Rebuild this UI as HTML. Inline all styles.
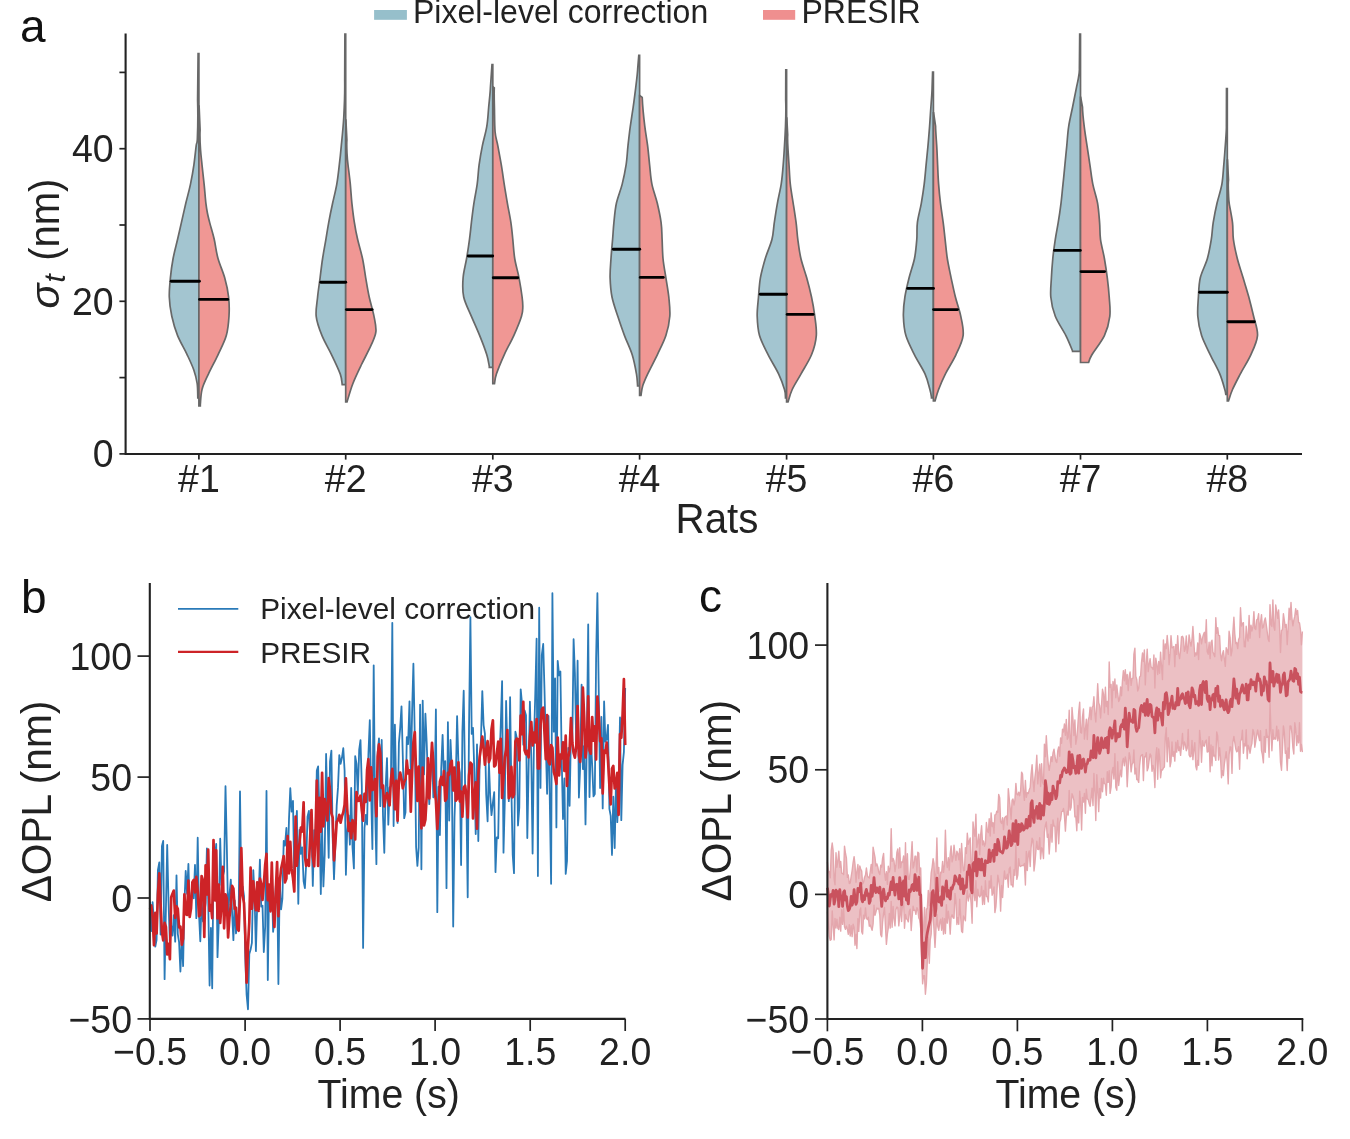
<!DOCTYPE html>
<html><head><meta charset="utf-8"><title>Figure</title><style>
html,body{margin:0;padding:0;background:#fff;}
svg{display:block;will-change:transform;}
text{font-family:"Liberation Sans", sans-serif;fill:#222222;}
.tk{font-size:37.5px;}
.lb{font-size:40.3px;}
.lg{font-size:32px;}
.lg2{font-size:29.8px;}
.pl{font-size:46px;fill:#111;}
</style></head>
<body><svg width="1350" height="1139" viewBox="0 0 1350 1139">
<rect width="1350" height="1139" fill="#fff"/>
<path d="M198.9,53.5 L198.1,53.5 L197.6,100 C197.8,106.3 197.7,130.3 197.4,137.9 C197.1,145.5 196.8,141.1 196.2,145.6 C195.6,150.1 194.8,158.4 193.9,164.8 C193,171.2 191.8,177.7 190.5,184.1 C189.2,190.5 187.3,196.9 185.8,203.3 C184.3,209.7 182.8,216.6 181.4,222.6 C180,228.6 179,233.3 177.6,239.3 C176.2,245.3 174.3,252.1 173.1,258.5 C171.9,264.9 171,271.4 170.4,277.8 C169.8,284.2 169.1,290.6 169.3,297 C169.5,303.4 170.4,309.9 171.8,316.3 C173.2,322.7 175,329.2 177.6,335.6 C180.2,342 184.5,349 187.2,354.8 C189.9,360.6 192.2,365.4 193.9,370.2 C195.6,375 196.5,379.2 197.2,383.7 C197.8,388.2 197.7,394.9 197.8,397.2 L197.8,398 L198.9,398 Z" fill="#a3c5d0" stroke="#686868" stroke-width="1.7" stroke-linejoin="miter" stroke-miterlimit="3"/>
<path d="M198.9,106 L199.1,106 L200.1,130 C199.9,133.2 200.1,143.6 200.5,149.4 C200.9,155.2 201.4,159 202,164.8 C202.6,170.6 203.4,177.7 204.1,184.1 C204.8,190.5 205.3,198.5 205.9,203.3 C206.5,208.1 206.8,209.8 207.4,213 C208,216.2 208.6,218.2 209.7,222.6 C210.8,227 212.8,233.3 214.2,239.3 C215.6,245.3 216.2,252.1 218,258.5 C219.8,264.9 222.9,271.4 224.7,277.8 C226.5,284.2 227.9,290.6 228.6,297 C229.3,303.4 229.4,309.9 229,316.3 C228.6,322.7 228.1,329.2 226.3,335.6 C224.5,342 221,348.4 218,354.8 C215,361.2 211.1,368.3 208.4,374.1 C205.7,379.9 203.3,384.4 202,389.5 C200.7,394.6 200.6,402.3 200.3,404.9 L200.3,405.9 L198.9,405.9 Z" fill="#f09794" stroke="#686868" stroke-width="1.7" stroke-linejoin="miter" stroke-miterlimit="3"/>
<path d="M345.7,34.2 L344.9,34.2 L344.7,80 C344.8,86.1 344.4,105.8 343.8,116.7 C343.2,127.6 342.1,137.6 341.3,145.6 C340.6,153.6 340.1,158.4 339.3,164.8 C338.6,171.2 337.9,177.7 336.8,184.1 C335.7,190.5 334,196.9 332.6,203.3 C331.2,209.7 329.8,216.6 328.7,222.6 C327.6,228.6 326.9,233.3 325.9,239.3 C324.9,245.3 323.6,252.1 322.6,258.5 C321.6,264.9 320.9,271.4 320.1,277.8 C319.3,284.2 318.2,290.6 317.6,297 C317,303.4 315.5,309.9 316.2,316.3 C316.9,322.7 319.4,329.2 322,335.6 C324.6,342 328.6,348.4 331.6,354.8 C334.7,361.2 338.5,369.1 340.3,374.1 C342.1,379.1 341.9,382.9 342.2,384.7 L342.2,384.7 L345.7,384.7 Z" fill="#a3c5d0" stroke="#686868" stroke-width="1.7" stroke-linejoin="miter" stroke-miterlimit="3"/>
<path d="M345.7,120 L345.9,120 L346.9,140 C346.7,142.2 346.8,149.2 347,153.3 C347.2,157.4 347.4,159.7 348,164.8 C348.6,169.9 349.7,177.7 350.3,184.1 C350.9,190.5 351.2,196.9 351.9,203.3 C352.6,209.7 353.4,216.6 354.4,222.6 C355.3,228.6 356.2,233.3 357.6,239.3 C359,245.3 361.1,252.1 362.5,258.5 C363.9,264.9 364.6,271.4 365.7,277.8 C366.8,284.2 367.8,290.6 369.2,297 C370.6,303.4 372.9,310.5 374,316.3 C375.1,322.1 376.4,326.9 375.9,331.7 C375.4,336.5 373.5,339.7 371.1,345.2 C368.7,350.7 364.6,358.1 361.5,364.5 C358.4,370.9 355.2,377.4 352.8,383.7 C350.4,389.9 348,398.9 347,402 L347,402 L345.7,402 Z" fill="#f09794" stroke="#686868" stroke-width="1.7" stroke-linejoin="miter" stroke-miterlimit="3"/>
<path d="M492.8,64.7 L492,64.7 L490.4,87.8 C490.4,91 489.3,100.6 488.7,107 C488.1,113.4 487.9,119.9 486.8,126.3 C485.8,132.7 483.7,139.2 482.4,145.6 C481.1,152 480,158.4 479.1,164.8 C478.2,171.2 478.1,177.7 477.2,184.1 C476.3,190.5 474.9,196.9 473.9,203.3 C472.9,209.7 472.1,216.6 471.4,222.6 C470.7,228.6 470.3,233.3 469.5,239.3 C468.7,245.3 467.7,252.1 466.6,258.5 C465.5,264.9 463.6,271.4 463.1,277.8 C462.6,284.2 462.3,290.6 463.7,297 C465.1,303.4 468.7,309.9 471.4,316.3 C474.1,322.7 477.1,329.2 479.7,335.6 C482.3,342 485.2,349.7 486.8,354.8 C488.4,359.9 488.9,364.5 489.3,366.4 L489.3,367.3 L492.8,367.3 Z" fill="#a3c5d0" stroke="#686868" stroke-width="1.7" stroke-linejoin="miter" stroke-miterlimit="3"/>
<path d="M492.8,86.8 L493,86.8 L494.3,87.8 C494.1,91 494.2,99.6 494.4,107 C494.6,114.4 494.5,125.6 495.1,132 C495.7,138.4 496.8,140.1 497.8,145.6 C498.8,151.1 500.2,158.4 501.3,164.8 C502.4,171.2 503.2,177.7 504.2,184.1 C505.2,190.5 506.3,196.9 507.4,203.3 C508.5,209.7 510,216.6 510.9,222.6 C511.8,228.6 512.2,233.3 512.8,239.3 C513.4,245.3 513.7,252.1 514.7,258.5 C515.7,264.9 517.8,271.4 519,277.8 C520.2,284.2 521.5,292.2 522.1,297 C522.7,301.8 522.9,303.5 522.8,306.7 C522.7,309.9 523,311.5 521.5,316.3 C520,321.1 516.7,329.2 513.8,335.6 C510.9,342 507.1,348.4 504.2,354.8 C501.3,361.2 498,369.3 496.4,374.1 C494.8,378.9 494.8,382.1 494.5,383.7 L494.5,383.7 L492.8,383.7 Z" fill="#f09794" stroke="#686868" stroke-width="1.7" stroke-linejoin="miter" stroke-miterlimit="3"/>
<path d="M639.6,55.4 L638.8,55.4 L637.7,68.5 C637.6,71.7 636.5,81.4 635.7,87.8 C634.9,94.2 634.1,100.6 633.2,107 C632.3,113.4 631.2,119.9 630.3,126.3 C629.4,132.7 628.7,139.2 628,145.6 C627.3,152 627.1,158.4 626.1,164.8 C625.1,171.2 623.8,177.7 622.2,184.1 C620.6,190.5 617.8,196.9 616.4,203.3 C615,209.7 614.5,216.6 613.9,222.6 C613.3,228.6 613.1,233.3 612.6,239.3 C612.1,245.3 611.4,252.1 611,258.5 C610.6,264.9 609.9,271.4 610.1,277.8 C610.3,284.2 610.7,290.6 612,297 C613.3,303.4 615.7,309.9 617.8,316.3 C619.9,322.7 622.1,329.2 624.5,335.6 C626.9,342 630.2,348.4 632.2,354.8 C634.2,361.2 635.6,369 636.5,374.1 C637.4,379.2 637.4,383.7 637.6,385.6 L637.6,386 L639.6,386 Z" fill="#a3c5d0" stroke="#686868" stroke-width="1.7" stroke-linejoin="miter" stroke-miterlimit="3"/>
<path d="M639.6,95.5 L639.8,95.5 L642.2,97.4 C642.4,102.2 643.8,118.3 644.8,126.3 C645.8,134.3 646.8,139.2 647.6,145.6 C648.4,152 648.9,158.4 649.6,164.8 C650.3,171.2 650.6,177.7 651.9,184.1 C653.2,190.5 655.8,196.9 657.3,203.3 C658.8,209.7 660.3,216.6 661.1,222.6 C661.9,228.6 661.8,233.3 662.1,239.3 C662.4,245.3 662.4,252.1 663,258.5 C663.6,264.9 664.9,271.4 665.9,277.8 C666.9,284.2 668.1,290.6 668.8,297 C669.4,303.4 670.3,309.9 669.8,316.3 C669.3,322.7 668,329.2 665.9,335.6 C663.8,342 660.3,348.4 657.3,354.8 C654.2,361.2 650,369 647.6,374.1 C645.2,379.2 643.9,382.1 642.8,385.6 C641.7,389.1 641.3,393.7 641,395.3 L641,395.3 L639.6,395.3 Z" fill="#f09794" stroke="#686868" stroke-width="1.7" stroke-linejoin="miter" stroke-miterlimit="3"/>
<path d="M786.6,69.9 L785.8,69.9 L785.7,100 C785.9,104.4 785.8,118.7 785.5,126.3 C785.2,133.9 784.9,139.2 784.5,145.6 C784.1,152 783.8,158.4 783.2,164.8 C782.7,171.2 782.2,177.7 781.2,184.1 C780.2,190.5 778.5,196.9 777.4,203.3 C776.2,209.7 775.2,216.6 774.3,222.6 C773.4,228.6 773.5,233.3 772,239.3 C770.5,245.3 767.2,252.1 765.3,258.5 C763.4,264.9 761.5,271.4 760.4,277.8 C759.3,284.2 759,290.6 758.5,297 C758,303.4 757,309.9 757.2,316.3 C757.4,322.7 757.7,329.2 759.5,335.6 C761.3,342 765,348.4 768.2,354.8 C771.4,361.2 776,368.3 778.7,374.1 C781.4,379.9 783.4,385.7 784.5,389.5 C785.6,393.3 785.3,395.8 785.5,397 L785.5,398 L786.6,398 Z" fill="#a3c5d0" stroke="#686868" stroke-width="1.7" stroke-linejoin="miter" stroke-miterlimit="3"/>
<path d="M786.6,118 L786.8,118 L787.7,135 C787.5,137.4 787.7,144.4 788,149.4 C788.3,154.4 788.6,159 789,164.8 C789.4,170.6 789.6,177.7 790.3,184.1 C791,190.5 792.2,196.9 793.2,203.3 C794.2,209.7 795.3,216.6 796.1,222.6 C796.9,228.6 797,233.3 797.8,239.3 C798.6,245.3 799.4,252.1 800.9,258.5 C802.4,264.9 804.9,271.4 806.7,277.8 C808.5,284.2 810.1,290.6 811.5,297 C812.9,303.4 814,309.9 814.8,316.3 C815.6,322.7 816.8,329.2 816.3,335.6 C815.8,342 814.1,348.4 811.5,354.8 C808.9,361.2 804.1,368.3 800.9,374.1 C797.7,379.9 794.4,384.9 792.2,389.5 C790.1,394.1 788.7,399.9 788,402 L788,402 L786.6,402 Z" fill="#f09794" stroke="#686868" stroke-width="1.7" stroke-linejoin="miter" stroke-miterlimit="3"/>
<path d="M933.4,72 L932.6,72 L932.1,87.8 C932.1,91 931.4,100.6 930.9,107 C930.4,113.4 930.1,119.9 929.6,126.3 C929.1,132.7 928.6,139.2 928,145.6 C927.4,152 926.7,158.4 926.1,164.8 C925.5,171.2 925,177.7 924.2,184.1 C923.4,190.5 922.4,196.9 921.3,203.3 C920.2,209.7 918.1,216.6 917.4,222.6 C916.6,228.6 917.3,233.3 916.8,239.3 C916.3,245.3 915.8,252.1 914.5,258.5 C913.2,264.9 910.7,271.4 909.1,277.8 C907.5,284.2 905.9,290.6 904.9,297 C903.9,303.4 903.2,309.9 903.4,316.3 C903.6,322.7 904,329.2 905.9,335.6 C907.8,342 911.3,348.4 914.5,354.8 C917.7,361.2 922.5,368.3 925.1,374.1 C927.7,379.9 928.8,385.6 929.9,389.5 C931,393.4 931.2,395.9 931.5,397.2 L931.5,398 L933.4,398 Z" fill="#a3c5d0" stroke="#686868" stroke-width="1.7" stroke-linejoin="miter" stroke-miterlimit="3"/>
<path d="M933.4,112.8 L933.6,112.8 L935.6,126.3 C935.5,129.5 936.3,139.2 936.7,145.6 C937.1,152 937.3,158.4 937.6,164.8 C937.9,171.2 938.1,177.7 938.6,184.1 C939.1,190.5 939.7,196.9 940.5,203.3 C941.3,209.7 942.4,216.6 943.2,222.6 C944,228.6 944.4,233.3 945.1,239.3 C945.8,245.3 946.3,252.1 947.3,258.5 C948.3,264.9 949.8,271.4 951.1,277.8 C952.5,284.2 953.8,290.6 955.4,297 C957,303.4 959.5,309.9 960.8,316.3 C962.1,322.7 963.9,329.2 963.1,335.6 C962.3,342 958.9,348.4 955.9,354.8 C952.9,361.2 948.2,368.3 945.3,374.1 C942.4,379.9 940.3,385 938.6,389.5 C936.9,394 935.6,399.1 935,401 L935,401 L933.4,401 Z" fill="#f09794" stroke="#686868" stroke-width="1.7" stroke-linejoin="miter" stroke-miterlimit="3"/>
<path d="M1080.5,34.2 L1079.7,34.2 L1079.4,68.5 C1079.5,70.1 1079,75 1078.4,78.2 C1077.9,81.4 1077.4,83 1076.4,87.8 C1075.4,92.6 1073.9,100.6 1072.6,107 C1071.3,113.4 1069.7,119.9 1068.7,126.3 C1067.7,132.7 1067.4,139.2 1066.8,145.6 C1066.2,152 1065.5,158.4 1064.9,164.8 C1064.3,171.2 1063.7,177.7 1063,184.1 C1062.3,190.5 1061.8,196.9 1061,203.3 C1060.2,209.7 1059.2,216.6 1058.2,222.6 C1057.2,228.6 1056.2,233.3 1055.3,239.3 C1054.4,245.3 1053.4,252.1 1052.8,258.5 C1052.2,264.9 1051.7,271.4 1051.4,277.8 C1051.1,284.2 1050.2,290.6 1050.8,297 C1051.4,303.4 1052.8,309.9 1055.3,316.3 C1057.8,322.7 1063,329.8 1065.9,335.6 C1068.8,341.4 1071.5,348.4 1072.6,351 L1072.6,351.4 L1080.5,351.4 Z" fill="#a3c5d0" stroke="#686868" stroke-width="1.7" stroke-linejoin="miter" stroke-miterlimit="3"/>
<path d="M1080.5,97.4 L1080.7,97.4 L1082.5,107 C1082.5,110.2 1083.4,119.9 1084.2,126.3 C1085,132.7 1086,139.2 1087,145.6 C1088,152 1088.9,158.4 1089.9,164.8 C1090.9,171.2 1091.5,177.7 1092.8,184.1 C1094.1,190.5 1096.5,196.9 1097.6,203.3 C1098.7,209.7 1099.1,216.6 1099.6,222.6 C1100.1,228.6 1099.7,233.3 1100.5,239.3 C1101.3,245.3 1103.3,252.1 1104.4,258.5 C1105.5,264.9 1106.5,271.4 1107.3,277.8 C1108.1,284.2 1108.8,290.6 1109.2,297 C1109.6,303.4 1110.6,309.9 1109.8,316.3 C1109,322.7 1107.4,329.2 1104.4,335.6 C1101.4,342 1094.5,350.3 1091.9,354.8 C1089.3,359.3 1089.1,361.2 1088.6,362.5 L1088.6,362.5 L1080.5,362.5 Z" fill="#f09794" stroke="#686868" stroke-width="1.7" stroke-linejoin="miter" stroke-miterlimit="3"/>
<path d="M1227.3,88.7 L1226.5,88.7 L1226.4,126.3 C1226.5,129.5 1225.8,139.2 1225.3,145.6 C1224.8,152 1224.4,158.4 1223.8,164.8 C1223.2,171.2 1223,177.7 1221.9,184.1 C1220.8,190.5 1218.5,196.9 1217,203.3 C1215.5,209.7 1214.2,216.6 1213.2,222.6 C1212.2,228.6 1212.3,233.3 1211.3,239.3 C1210.3,245.3 1209.2,252.1 1207.4,258.5 C1205.6,264.9 1201.8,271.4 1200.3,277.8 C1198.8,284.2 1198.8,290.6 1198.4,297 C1198,303.4 1197.3,309.9 1197.8,316.3 C1198.3,322.7 1199.5,329.2 1201.6,335.6 C1203.7,342 1207.2,348.4 1210.3,354.8 C1213.3,361.2 1217.5,368.3 1219.9,374.1 C1222.3,379.9 1223.8,386.1 1224.8,389.5 C1225.8,392.9 1225.6,393.5 1225.8,394.3 L1225.8,394.3 L1227.3,394.3 Z" fill="#a3c5d0" stroke="#686868" stroke-width="1.7" stroke-linejoin="miter" stroke-miterlimit="3"/>
<path d="M1227.3,160 L1227.5,160 L1228.5,180 C1228.2,182.3 1228.3,189.8 1228.5,193.7 C1228.7,197.6 1228.5,198.5 1229.2,203.3 C1229.9,208.1 1231.8,216.6 1232.5,222.6 C1233.2,228.6 1232.6,233.3 1233.4,239.3 C1234.2,245.3 1235.7,252.1 1237.3,258.5 C1238.9,264.9 1241.2,271.4 1243.1,277.8 C1245,284.2 1247,290.6 1248.8,297 C1250.5,303.4 1252.1,309.9 1253.6,316.3 C1255,322.7 1258,329.2 1257.5,335.6 C1257,342 1253.7,348.4 1250.8,354.8 C1247.9,361.2 1243.2,368.3 1240.2,374.1 C1237.2,379.9 1234.5,385 1232.5,389.5 C1230.5,394 1229.2,399.1 1228.5,401 L1228.5,401 L1227.3,401 Z" fill="#f09794" stroke="#686868" stroke-width="1.7" stroke-linejoin="miter" stroke-miterlimit="3"/>
<line x1="171.2" y1="281.2" x2="199.4" y2="281.2" stroke="#000" stroke-width="2.9" stroke-linecap="round"/>
<line x1="199.5" y1="299.4" x2="227.7" y2="299.4" stroke="#000" stroke-width="2.9" stroke-linecap="round"/>
<line x1="320.8" y1="282.2" x2="345.7" y2="282.2" stroke="#000" stroke-width="2.9" stroke-linecap="round"/>
<line x1="346.4" y1="309.6" x2="372.1" y2="309.6" stroke="#000" stroke-width="2.9" stroke-linecap="round"/>
<line x1="468.3" y1="256" x2="492.7" y2="256" stroke="#000" stroke-width="2.9" stroke-linecap="round"/>
<line x1="493.3" y1="277.8" x2="517.7" y2="277.8" stroke="#000" stroke-width="2.9" stroke-linecap="round"/>
<line x1="613.3" y1="249.3" x2="639.7" y2="249.3" stroke="#000" stroke-width="2.9" stroke-linecap="round"/>
<line x1="640.3" y1="277.4" x2="663.3" y2="277.4" stroke="#000" stroke-width="2.9" stroke-linecap="round"/>
<line x1="760.3" y1="294.2" x2="786.5" y2="294.2" stroke="#000" stroke-width="2.9" stroke-linecap="round"/>
<line x1="787.2" y1="314.4" x2="813.1" y2="314.4" stroke="#000" stroke-width="2.9" stroke-linecap="round"/>
<line x1="907.7" y1="288.4" x2="933.5" y2="288.4" stroke="#000" stroke-width="2.9" stroke-linecap="round"/>
<line x1="933.6" y1="309.6" x2="957.5" y2="309.6" stroke="#000" stroke-width="2.9" stroke-linecap="round"/>
<line x1="1054.6" y1="250.4" x2="1080.3" y2="250.4" stroke="#000" stroke-width="2.9" stroke-linecap="round"/>
<line x1="1081" y1="271.6" x2="1104.6" y2="271.6" stroke="#000" stroke-width="2.9" stroke-linecap="round"/>
<line x1="1199.7" y1="292.2" x2="1227.3" y2="292.2" stroke="#000" stroke-width="2.9" stroke-linecap="round"/>
<line x1="1228" y1="321.7" x2="1254.3" y2="321.7" stroke="#000" stroke-width="2.9" stroke-linecap="round"/>
<path d="M125.6,33.5 V454.0 H1302" fill="none" stroke="#222222" stroke-width="2.1"/>
<line x1="119.4" y1="453.9" x2="125.6" y2="453.9" stroke="#222222" stroke-width="1.7"/>
<text x="113.7" y="467.2" text-anchor="end" class="tk" transform="matrix(1 0 0 1.04 0 -18.69)">0</text>
<line x1="119.4" y1="377.6" x2="125.6" y2="377.6" stroke="#222222" stroke-width="1.7"/>
<line x1="119.4" y1="301.3" x2="125.6" y2="301.3" stroke="#222222" stroke-width="1.7"/>
<text x="113.7" y="314.6" text-anchor="end" class="tk" transform="matrix(1 0 0 1.04 0 -12.58)">20</text>
<line x1="119.4" y1="225.0" x2="125.6" y2="225.0" stroke="#222222" stroke-width="1.7"/>
<line x1="119.4" y1="148.7" x2="125.6" y2="148.7" stroke="#222222" stroke-width="1.7"/>
<text x="113.7" y="162" text-anchor="end" class="tk" transform="matrix(1 0 0 1.04 0 -6.48)">40</text>
<line x1="119.4" y1="72.4" x2="125.6" y2="72.4" stroke="#222222" stroke-width="1.7"/>
<line x1="198.9" y1="454.0" x2="198.9" y2="459.6" stroke="#222222" stroke-width="1.7"/>
<text x="198.9" y="491.8" text-anchor="middle" class="tk" transform="matrix(1 0 0 1.04 0 -19.67)">#1</text>
<line x1="345.7" y1="454.0" x2="345.7" y2="459.6" stroke="#222222" stroke-width="1.7"/>
<text x="345.7" y="491.8" text-anchor="middle" class="tk" transform="matrix(1 0 0 1.04 0 -19.67)">#2</text>
<line x1="492.8" y1="454.0" x2="492.8" y2="459.6" stroke="#222222" stroke-width="1.7"/>
<text x="492.8" y="491.8" text-anchor="middle" class="tk" transform="matrix(1 0 0 1.04 0 -19.67)">#3</text>
<line x1="639.6" y1="454.0" x2="639.6" y2="459.6" stroke="#222222" stroke-width="1.7"/>
<text x="639.6" y="491.8" text-anchor="middle" class="tk" transform="matrix(1 0 0 1.04 0 -19.67)">#4</text>
<line x1="786.6" y1="454.0" x2="786.6" y2="459.6" stroke="#222222" stroke-width="1.7"/>
<text x="786.6" y="491.8" text-anchor="middle" class="tk" transform="matrix(1 0 0 1.04 0 -19.67)">#5</text>
<line x1="933.4" y1="454.0" x2="933.4" y2="459.6" stroke="#222222" stroke-width="1.7"/>
<text x="933.4" y="491.8" text-anchor="middle" class="tk" transform="matrix(1 0 0 1.04 0 -19.67)">#6</text>
<line x1="1080.5" y1="454.0" x2="1080.5" y2="459.6" stroke="#222222" stroke-width="1.7"/>
<text x="1080.5" y="491.8" text-anchor="middle" class="tk" transform="matrix(1 0 0 1.04 0 -19.67)">#7</text>
<line x1="1227.3" y1="454.0" x2="1227.3" y2="459.6" stroke="#222222" stroke-width="1.7"/>
<text x="1227.3" y="491.8" text-anchor="middle" class="tk" transform="matrix(1 0 0 1.04 0 -19.67)">#8</text>
<text x="717" y="533.4" text-anchor="middle" class="lb" transform="matrix(1 0 0 1.04 0 -21.34)">Rats</text>
<g transform="translate(48,294.6) rotate(-90)"><text x="-13.9" y="10.8" style="font-size:41.5px;font-style:italic">σ</text></g>
<g transform="translate(55.5,277.2) rotate(-90)"><text x="-5.4" y="9.6" style="font-size:30px;font-style:italic">t</text></g>
<g transform="translate(58.5,219.7) rotate(-90)"><text x="0" y="0" text-anchor="middle" class="lb" style="font-size:40px" transform="matrix(1 0 0 1.04 0 -0.00)">(nm)</text></g>
<rect x="374.1" y="10" width="32.8" height="9.8" fill="#96bfcb"/>
<text x="413" y="23.3" class="lg" transform="matrix(1 0 0 1.01 0 -0.23)">Pixel-level correction</text>
<rect x="763" y="10" width="32.2" height="9.8" fill="#ef8f8f"/>
<text x="801.5" y="23.3" class="lg" transform="matrix(1 0 0 1.01 0 -0.23)">PRESIR</text>
<text x="20" y="41.6" class="pl">a</text>
<path d="M150,901.5 L151.3,931 L152.6,902.2 L154,922.6 L155.3,946.6 L156.6,939.8 L157.9,870.2 L159.3,862.4 L160.6,934.5 L161.9,846.2 L163.2,840.9 L164.6,979.2 L165.9,910.1 L167.2,844.9 L168.5,901.6 L169.9,943.2 L171.2,925.5 L172.5,935.7 L173.8,915.1 L175.2,941.7 L176.5,875.3 L177.8,934.2 L179.1,942.2 L180.4,971.5 L181.8,936.7 L183.1,966.1 L184.4,903.2 L185.7,871 L187.1,893.8 L188.4,864 L189.7,909 L191,901 L192.4,886.5 L193.7,898.4 L195,864.9 L196.3,918.2 L197.7,837.7 L199,914 L200.3,941.3 L201.6,901.3 L203,921.4 L204.3,914.2 L205.6,903 L206.9,848.5 L208.2,900 L209.6,985.5 L210.9,927.8 L212.2,988.3 L213.5,861.9 L214.9,860.9 L216.2,844 L217.5,957.2 L218.8,921.8 L220.2,838.7 L221.5,884.9 L222.8,876.6 L224.1,871.2 L225.5,786.2 L226.8,845.3 L228.1,914.5 L229.4,895.5 L230.8,879.7 L232.1,912.9 L233.4,940.1 L234.7,900.3 L236,933.4 L237.4,919.8 L238.7,912.3 L240,791.3 L241.3,891.5 L242.7,886.5 L244,895.8 L245.3,958.5 L246.6,994.7 L248,1009.3 L249.3,954 L250.6,949.6 L251.9,942.8 L253.3,870.2 L254.6,897 L255.9,951.1 L257.2,904.6 L258.6,898.1 L259.9,859.7 L261.2,906.6 L262.5,905.6 L263.8,952 L265.2,926.2 L266.5,791 L267.8,980 L269.1,886.6 L270.5,889.3 L271.8,882 L273.1,931.8 L274.4,919.4 L275.8,886 L277.1,876.3 L278.4,984.1 L279.7,882.2 L281.1,909.3 L282.4,898.7 L283.7,840.9 L285,845.6 L286.4,828 L287.7,867.4 L289,819 L290.3,788.2 L291.6,811.6 L293,800.9 L294.3,880.1 L295.6,832.3 L296.9,810.9 L298.3,903.8 L299.6,829.8 L300.9,853.9 L302.2,847.4 L303.6,881.3 L304.9,888.1 L306.2,863.2 L307.5,816.6 L308.9,810.9 L310.2,837.9 L311.5,828.5 L312.8,885.9 L314.2,830.2 L315.5,838.5 L316.8,770.5 L318.1,766.4 L319.4,811 L320.8,894 L322.1,827.7 L323.4,886.4 L324.7,854.8 L326.1,753.9 L327.4,809 L328.7,857.8 L330,761.7 L331.4,750.7 L332.7,839.2 L334,879.1 L335.3,845.5 L336.7,805.4 L338,787.4 L339.3,755.1 L340.6,763.8 L342,757.5 L343.3,748.2 L344.6,770.7 L345.9,874.8 L347.2,830 L348.6,815.5 L349.9,844.6 L351.2,788 L352.5,847.4 L353.9,868.4 L355.2,756.1 L356.5,763.8 L357.8,793.9 L359.2,749.6 L360.5,740.1 L361.8,785.8 L363.1,947.9 L364.5,827.8 L365.8,815 L367.1,824.6 L368.4,754.8 L369.8,720.2 L371.1,792.5 L372.4,849 L373.7,665.3 L375,803.6 L376.4,864.2 L377.7,752.1 L379,738.4 L380.3,806.2 L381.7,739.9 L383,815.7 L384.3,852.8 L385.6,787.8 L387,758.1 L388.3,824.7 L389.6,787.5 L390.9,786 L392.3,622.8 L393.6,826 L394.9,724.7 L396.2,789.1 L397.6,822.9 L398.9,743.1 L400.2,727.8 L401.5,706.3 L402.8,756.8 L404.2,818.2 L405.5,812.3 L406.8,737.1 L408.1,744.1 L409.5,701.3 L410.8,775.9 L412.1,712.3 L413.4,663.7 L414.8,737.7 L416.1,846.9 L417.4,865.9 L418.7,847.6 L420.1,704.6 L421.4,869.3 L422.7,700.6 L424,774.4 L425.4,713.7 L426.7,742.9 L428,780.5 L429.3,804.2 L430.6,770.2 L432,748.9 L433.3,797.3 L434.6,794.2 L435.9,709.5 L437.3,912.2 L438.6,786.7 L439.9,835.1 L441.2,769.3 L442.6,734.8 L443.9,777.3 L445.2,761.2 L446.5,888.2 L447.9,722.2 L449.2,820.5 L450.5,740 L451.8,769.5 L453.2,926.5 L454.5,817.7 L455.8,780.1 L457.1,716.1 L458.4,762.2 L459.8,772.5 L461.1,865 L462.4,731.5 L463.7,690.7 L465.1,785.7 L466.4,801.8 L467.7,897.3 L469,729.1 L470.4,617.2 L471.7,733.9 L473,728 L474.3,770.4 L475.7,834.1 L477,744.5 L478.3,841 L479.6,765.8 L481,738.5 L482.3,691.1 L483.6,725.1 L484.9,733.7 L486.2,794.2 L487.6,821.3 L488.9,762.9 L490.2,796.6 L491.5,815.2 L492.9,802.6 L494.2,792.1 L495.5,872.1 L496.8,837.3 L498.2,838.3 L499.5,760.5 L500.8,723.9 L502.1,681.1 L503.5,852.7 L504.8,801.2 L506.1,700.9 L507.4,751.7 L508.8,801.2 L510.1,697.2 L511.4,790.5 L512.7,854.6 L514,873.2 L515.4,731.7 L516.7,737.6 L518,825.5 L519.3,807.5 L520.7,689.3 L522,703.7 L523.3,744.7 L524.6,710.5 L526,715.2 L527.3,838.1 L528.6,769 L529.9,701.7 L531.3,758.3 L532.6,853.5 L533.9,743.5 L535.2,696.7 L536.6,638.7 L537.9,876.1 L539.2,607.7 L540.5,787.9 L541.8,655.1 L543.2,644 L544.5,690.2 L545.8,744.4 L547.1,793.8 L548.5,716 L549.8,800.3 L551.1,883.8 L552.4,593.2 L553.8,731.7 L555.1,678.4 L556.4,827.4 L557.7,660.8 L559.1,675.3 L560.4,671.5 L561.7,759.1 L563,819 L564.4,778.5 L565.7,873.9 L567,860.8 L568.3,747.9 L569.6,805.8 L571,731.6 L572.3,742.6 L573.6,639.2 L574.9,673.3 L576.3,747.8 L577.6,660.7 L578.9,797.5 L580.2,766.4 L581.6,684.7 L582.9,769.1 L584.2,746.2 L585.5,824.4 L586.9,736.8 L588.2,624.4 L589.5,797 L590.8,736.2 L592.2,766.1 L593.5,796.4 L594.8,794 L596.1,659.3 L597.4,593.2 L598.8,695.1 L600.1,788 L601.4,716.8 L602.7,808.4 L604.1,701.5 L605.4,741.7 L606.7,738.1 L608,724.9 L609.4,808.8 L610.7,815.8 L612,854.9 L613.3,796.7 L614.7,848 L616,780.4 L617.3,822.1 L618.6,793.6 L620,717.4 L621.3,820.2 L622.6,765 L623.9,751.8 L625.2,688.1" fill="none" stroke="#2a7ab8" stroke-width="1.8" stroke-linejoin="round"/>
<path d="M150,909.4 L151.3,905.5 L152.6,917 L154,945.1 L155.3,912.9 L156.6,933.5 L157.9,894.7 L159.3,873.3 L160.6,904.5 L161.9,931.2 L163.2,940.4 L164.6,922.9 L165.9,926.9 L167.2,954.5 L168.5,943.8 L169.9,959.1 L171.2,897.2 L172.5,893.7 L173.8,890.6 L175.2,917.8 L176.5,906.4 L177.8,908.8 L179.1,927.5 L180.4,926.6 L181.8,944.7 L183.1,938.8 L184.4,894.4 L185.7,914 L187.1,914.9 L188.4,880.6 L189.7,917 L191,908.6 L192.4,882.1 L193.7,879.9 L195,892.3 L196.3,876.9 L197.7,891.4 L199,916.1 L200.3,915 L201.6,876 L203,880.3 L204.3,937 L205.6,865.4 L206.9,894.5 L208.2,849.7 L209.6,910.6 L210.9,905 L212.2,918.1 L213.5,840.1 L214.9,900.3 L216.2,850.4 L217.5,918.5 L218.8,884.6 L220.2,923 L221.5,904.9 L222.8,866.9 L224.1,928.3 L225.5,894.4 L226.8,898.7 L228.1,937.4 L229.4,917.7 L230.8,905 L232.1,885.9 L233.4,888.6 L234.7,908.9 L236,907.7 L237.4,929 L238.7,930.7 L240,896.4 L241.3,848.1 L242.7,895.5 L244,903.3 L245.3,934.3 L246.6,982.7 L248,946.4 L249.3,922.3 L250.6,867.7 L251.9,908.6 L253.3,881.3 L254.6,897.2 L255.9,910.1 L257.2,882.4 L258.6,910.9 L259.9,878.6 L261.2,883.6 L262.5,900 L263.8,884.8 L265.2,864.7 L266.5,853.9 L267.8,900.1 L269.1,884.6 L270.5,911.3 L271.8,862.5 L273.1,908.3 L274.4,927 L275.8,890.8 L277.1,862 L278.4,916.1 L279.7,882.6 L281.1,868.9 L282.4,862.7 L283.7,856 L285,882.4 L286.4,878.5 L287.7,836 L289,873.3 L290.3,841.8 L291.6,868.9 L293,878.1 L294.3,891.5 L295.6,816.6 L296.9,865.6 L298.3,850.5 L299.6,842.6 L300.9,827.5 L302.2,831.5 L303.6,802.3 L304.9,856.5 L306.2,865.8 L307.5,860.1 L308.9,865.9 L310.2,836 L311.5,810 L312.8,856.6 L314.2,866.2 L315.5,834.6 L316.8,780.5 L318.1,865.9 L319.4,797.8 L320.8,831.6 L322.1,772.9 L323.4,826.3 L324.7,799.2 L326.1,809 L327.4,820.5 L328.7,778.1 L330,789.8 L331.4,813.4 L332.7,817.7 L334,860.3 L335.3,843.6 L336.7,821.9 L338,820.1 L339.3,814.8 L340.6,822.7 L342,816.1 L343.3,812.2 L344.6,804.8 L345.9,778.3 L347.2,808.8 L348.6,830.8 L349.9,823.2 L351.2,838.1 L352.5,820 L353.9,826.8 L355.2,839.4 L356.5,792 L357.8,800.8 L359.2,800.6 L360.5,795.7 L361.8,810.4 L363.1,820.7 L364.5,793.8 L365.8,802 L367.1,769.9 L368.4,759.2 L369.8,800.5 L371.1,767.3 L372.4,790 L373.7,788.5 L375,779.1 L376.4,816.2 L377.7,756.6 L379,744.4 L380.3,753.3 L381.7,788 L383,785.5 L384.3,806.4 L385.6,798.7 L387,793.1 L388.3,798.4 L389.6,805.5 L390.9,779.8 L392.3,768.8 L393.6,786 L394.9,809.2 L396.2,780.8 L397.6,820.6 L398.9,780.2 L400.2,772.5 L401.5,778.9 L402.8,788.2 L404.2,782.2 L405.5,778.9 L406.8,760.5 L408.1,773.3 L409.5,770.3 L410.8,811.7 L412.1,773.2 L413.4,742.3 L414.8,732.2 L416.1,772.9 L417.4,801 L418.7,766.6 L420.1,802 L421.4,828.3 L422.7,767.6 L424,825.5 L425.4,819.6 L426.7,795.8 L428,758.4 L429.3,798.4 L430.6,770.4 L432,742.9 L433.3,762.8 L434.6,790.5 L435.9,800.7 L437.3,829 L438.6,808.8 L439.9,781.6 L441.2,777 L442.6,784.9 L443.9,771.2 L445.2,800.8 L446.5,798.5 L447.9,772.9 L449.2,774.7 L450.5,763.9 L451.8,760.8 L453.2,790.5 L454.5,767.6 L455.8,800.7 L457.1,799 L458.4,762.3 L459.8,801.3 L461.1,791.5 L462.4,816.6 L463.7,787.7 L465.1,785.6 L466.4,795.3 L467.7,817.5 L469,775.5 L470.4,762.7 L471.7,764.1 L473,818.4 L474.3,796.1 L475.7,782.3 L477,828.6 L478.3,774.7 L479.6,757.2 L481,747.1 L482.3,736.6 L483.6,748 L484.9,764.7 L486.2,750.2 L487.6,741.2 L488.9,762.1 L490.2,758.4 L491.5,729.4 L492.9,720.3 L494.2,766.4 L495.5,765.2 L496.8,753.5 L498.2,741.7 L499.5,772.6 L500.8,738.9 L502.1,798 L503.5,777.1 L504.8,757.2 L506.1,749.8 L507.4,730 L508.8,798.2 L510.1,795.2 L511.4,766.8 L512.7,797.3 L514,794.5 L515.4,741.4 L516.7,738.7 L518,739.3 L519.3,760.4 L520.7,715.6 L522,734.1 L523.3,701.8 L524.6,750.2 L526,754.2 L527.3,750.8 L528.6,757.5 L529.9,736.8 L531.3,722.2 L532.6,745.4 L533.9,732.5 L535.2,742.3 L536.6,719.1 L537.9,768.4 L539.2,768.5 L540.5,725.6 L541.8,709.6 L543.2,707.6 L544.5,733 L545.8,759.1 L547.1,715.2 L548.5,761.6 L549.8,764.3 L551.1,745 L552.4,747.8 L553.8,772 L555.1,776.7 L556.4,783.9 L557.7,737.5 L559.1,775.4 L560.4,754.6 L561.7,758.5 L563,742.3 L564.4,771 L565.7,735.7 L567,785.9 L568.3,757.4 L569.6,750.4 L571,718.1 L572.3,742.5 L573.6,753 L574.9,757.6 L576.3,745.8 L577.6,706 L578.9,755.5 L580.2,762 L581.6,744 L582.9,687.7 L584.2,717.6 L585.5,757.5 L586.9,744 L588.2,696.4 L589.5,750.3 L590.8,753.7 L592.2,717 L593.5,740.7 L594.8,726.3 L596.1,759.4 L597.4,696.6 L598.8,716.2 L600.1,741.2 L601.4,738.3 L602.7,793.5 L604.1,750.5 L605.4,752.8 L606.7,742.6 L608,759.9 L609.4,785.6 L610.7,804.3 L612,768.5 L613.3,765.9 L614.7,788.3 L616,784.1 L617.3,772.8 L618.6,814.8 L620,734 L621.3,737.7 L622.6,714.6 L623.9,679.1 L625.2,745.1" fill="none" stroke="#cd2327" stroke-width="2.7" stroke-linejoin="round"/>
<path d="M149.8,582.9 V1018.9 H625.5" fill="none" stroke="#222222" stroke-width="2.1"/>
<line x1="137.5" y1="1018.9" x2="149.8" y2="1018.9" stroke="#222222" stroke-width="1.7"/>
<text x="132" y="1032.8" text-anchor="end" class="tk" transform="matrix(1 0 0 1.04 0 -41.31)">−50</text>
<line x1="137.5" y1="898" x2="149.8" y2="898" stroke="#222222" stroke-width="1.7"/>
<text x="132" y="911.9" text-anchor="end" class="tk" transform="matrix(1 0 0 1.04 0 -36.48)">0</text>
<line x1="137.5" y1="777.1" x2="149.8" y2="777.1" stroke="#222222" stroke-width="1.7"/>
<text x="132" y="791" text-anchor="end" class="tk" transform="matrix(1 0 0 1.04 0 -31.64)">50</text>
<line x1="137.5" y1="656.1" x2="149.8" y2="656.1" stroke="#222222" stroke-width="1.7"/>
<text x="132" y="670" text-anchor="end" class="tk" transform="matrix(1 0 0 1.04 0 -26.80)">100</text>
<line x1="150" y1="1018.9" x2="150" y2="1031" stroke="#222222" stroke-width="1.7"/>
<text x="150" y="1065" text-anchor="middle" class="tk" transform="matrix(1 0 0 1.04 0 -42.60)">−0.5</text>
<line x1="245.1" y1="1018.9" x2="245.1" y2="1031" stroke="#222222" stroke-width="1.7"/>
<text x="245.1" y="1065" text-anchor="middle" class="tk" transform="matrix(1 0 0 1.04 0 -42.60)">0.0</text>
<line x1="340.1" y1="1018.9" x2="340.1" y2="1031" stroke="#222222" stroke-width="1.7"/>
<text x="340.1" y="1065" text-anchor="middle" class="tk" transform="matrix(1 0 0 1.04 0 -42.60)">0.5</text>
<line x1="435.1" y1="1018.9" x2="435.1" y2="1031" stroke="#222222" stroke-width="1.7"/>
<text x="435.1" y="1065" text-anchor="middle" class="tk" transform="matrix(1 0 0 1.04 0 -42.60)">1.0</text>
<line x1="530.2" y1="1018.9" x2="530.2" y2="1031" stroke="#222222" stroke-width="1.7"/>
<text x="530.2" y="1065" text-anchor="middle" class="tk" transform="matrix(1 0 0 1.04 0 -42.60)">1.5</text>
<line x1="625.2" y1="1018.9" x2="625.2" y2="1031" stroke="#222222" stroke-width="1.7"/>
<text x="625.2" y="1065" text-anchor="middle" class="tk" transform="matrix(1 0 0 1.04 0 -42.60)">2.0</text>
<text x="388.7" y="1108" text-anchor="middle" class="lb" style="font-size:39.2px" transform="matrix(1 0 0 1.04 0 -44.32)">Time (s)</text>
<g transform="translate(51.3,801.5) rotate(-90)"><text x="0" y="0" text-anchor="middle" class="lb" style="font-size:40.6px" transform="matrix(1 0 0 1.04 0 -0.00)">ΔOPL (nm)</text></g>
<line x1="178" y1="608.8" x2="238.3" y2="608.8" stroke="#2a7ab8" stroke-width="1.7"/>
<line x1="178" y1="651.9" x2="238.3" y2="651.9" stroke="#cd2327" stroke-width="2.2"/>
<text x="260.2" y="619.4" class="lg2" transform="matrix(1 0 0 1.01 0 -6.19)">Pixel-level correction</text>
<text x="260.2" y="662.8" class="lg2" transform="matrix(1 0 0 1.01 0 -6.63)">PRESIR</text>
<text x="21" y="613.2" class="pl">b</text>
<path d="M827.4,861.9 L828.4,872.6 L829.3,871.4 L830.3,877.8 L831.2,850.7 L832.2,843 L833.1,850.2 L834.1,878.8 L835,884.7 L836,852.8 L836.9,867.2 L837.9,860.8 L838.8,851.3 L839.8,867.3 L840.7,861.4 L841.7,873.1 L842.6,873.4 L843.6,874.5 L844.5,846.1 L845.5,853.5 L846.4,857.8 L847.4,877.4 L848.3,875 L849.3,883.5 L850.2,883.2 L851.2,876.4 L852.1,870.8 L853.1,862.6 L854.1,856.7 L855,864.5 L856,882.3 L856.9,871.4 L857.9,864.5 L858.8,878.6 L859.8,865.9 L860.7,869 L861.7,871.1 L862.6,884 L863.6,882.1 L864.5,877.4 L865.5,875 L866.4,868 L867.4,875.9 L868.3,877.3 L869.3,878 L870.2,872 L871.2,864.4 L872.1,873.1 L873.1,847.1 L874,852.1 L875,857.4 L875.9,866 L876.9,863.9 L877.9,867.5 L878.8,872.3 L879.8,874.5 L880.7,865.2 L881.7,867.1 L882.6,858.1 L883.6,853.5 L884.5,872.4 L885.5,880.2 L886.4,871.7 L887.4,884.4 L888.3,866.2 L889.3,872.1 L890.2,868 L891.2,828.7 L892.1,861.4 L893.1,858.5 L894,861 L895,871.6 L895.9,864.8 L896.9,852.5 L897.8,849 L898.8,868.1 L899.7,847.8 L900.7,867.6 L901.6,861.9 L902.6,862.5 L903.6,856 L904.5,880.3 L905.5,842.8 L906.4,889.1 L907.4,853.8 L908.3,879.2 L909.3,879.6 L910.2,871.3 L911.2,856.6 L912.1,841.6 L913.1,868.1 L914,865 L915,856.3 L915.9,856.1 L916.9,872.1 L917.8,852.2 L918.8,853.3 L919.7,874.6 L920.7,867.9 L921.6,905.9 L922.6,934.7 L923.5,929.9 L924.5,907.4 L925.4,943 L926.4,908.9 L927.3,908.7 L928.3,890.5 L929.3,905.6 L930.2,889.1 L931.2,872.8 L932.1,867.5 L933.1,858.7 L934,863.4 L935,892.4 L935.9,871.7 L936.9,838 L937.8,873.5 L938.8,867.4 L939.7,891.2 L940.7,872.1 L941.6,872.8 L942.6,861.4 L943.5,872.4 L944.5,864.8 L945.4,830.2 L946.4,861.5 L947.3,867.5 L948.3,857.6 L949.2,870.1 L950.2,854 L951.1,845.9 L952.1,861.9 L953.1,857.5 L954,845.2 L955,854.2 L955.9,860.3 L956.9,851.2 L957.8,853.4 L958.8,859.7 L959.7,848.6 L960.7,872.6 L961.6,843.5 L962.6,861.3 L963.5,870.8 L964.5,870.3 L965.4,847.6 L966.4,853.5 L967.3,833.3 L968.3,844.4 L969.2,841.4 L970.2,837.9 L971.1,865.5 L972.1,878.2 L973,821.9 L974,832 L974.9,836.4 L975.9,814.1 L976.8,847.6 L977.8,842.5 L978.8,834.3 L979.7,854.7 L980.7,834.2 L981.6,825.8 L982.6,844.9 L983.5,840.9 L984.5,846.2 L985.4,843.8 L986.4,822.5 L987.3,831.2 L988.3,832.6 L989.2,818.8 L990.2,836 L991.1,812.9 L992.1,826.5 L993,822.6 L994,833.3 L994.9,815 L995.9,814.7 L996.8,811.1 L997.8,812.4 L998.7,794.4 L999.7,797.9 L1000.6,821.9 L1001.6,823.5 L1002.6,817.8 L1003.5,829.6 L1004.5,818.1 L1005.4,816.8 L1006.4,816 L1007.3,825 L1008.3,788.6 L1009.2,798 L1010.2,808.2 L1011.1,819.3 L1012.1,800.1 L1013,799 L1014,805 L1014.9,800 L1015.9,783.4 L1016.8,794.3 L1017.8,795 L1018.7,792.1 L1019.7,795.7 L1020.6,790.8 L1021.6,772.1 L1022.5,774 L1023.5,791.8 L1024.4,800.4 L1025.4,780.5 L1026.3,797.3 L1027.3,792.7 L1028.3,793.5 L1029.2,790.1 L1030.2,787.5 L1031.1,774.2 L1032.1,764.8 L1033,779.2 L1034,791.5 L1034.9,777.9 L1035.9,769 L1036.8,755.2 L1037.8,783.9 L1038.7,773.6 L1039.7,764.2 L1040.6,786.5 L1041.6,763.6 L1042.5,782.2 L1043.5,784.6 L1044.4,744.1 L1045.4,756.6 L1046.3,735.8 L1047.3,753.3 L1048.2,763.5 L1049.2,770.4 L1050.1,764.5 L1051.1,756.7 L1052,761.6 L1053,753 L1054,749.2 L1054.9,756 L1055.9,761.4 L1056.8,762.5 L1057.8,750.6 L1058.7,746.9 L1059.7,756.3 L1060.6,737.9 L1061.6,743.3 L1062.5,729.3 L1063.5,732 L1064.4,724 L1065.4,735.3 L1066.3,719.4 L1067.3,739.2 L1068.2,737.4 L1069.2,710.3 L1070.1,740.3 L1071.1,747.4 L1072,707.5 L1073,719.8 L1073.9,735.5 L1074.9,720 L1075.8,744.2 L1076.8,737.8 L1077.8,726.3 L1078.7,712 L1079.7,702.1 L1080.6,732.5 L1081.6,733.1 L1082.5,716.9 L1083.5,708.9 L1084.4,739.1 L1085.4,729.7 L1086.3,719.3 L1087.3,739.5 L1088.2,720.1 L1089.2,716.7 L1090.1,707.1 L1091.1,719.6 L1092,707.4 L1093,706.3 L1093.9,696.7 L1094.9,714 L1095.8,722 L1096.8,704 L1097.7,683.7 L1098.7,702.7 L1099.6,705.6 L1100.6,718 L1101.5,705 L1102.5,689.3 L1103.5,694.1 L1104.4,712.7 L1105.4,687.2 L1106.3,706.6 L1107.3,701.5 L1108.2,714.5 L1109.2,662 L1110.1,687.6 L1111.1,684.5 L1112,707.7 L1113,681.5 L1113.9,690.3 L1114.9,679 L1115.8,697.7 L1116.8,685 L1117.7,693.7 L1118.7,701.5 L1119.6,699.4 L1120.6,686.9 L1121.5,695.8 L1122.5,680.3 L1123.4,670.6 L1124.4,680.8 L1125.3,669.8 L1126.3,684.2 L1127.2,674.4 L1128.2,690.6 L1129.2,676.2 L1130.1,672 L1131.1,685.4 L1132,678.7 L1133,678.1 L1133.9,654.1 L1134.9,648.2 L1135.8,676.3 L1136.8,679.7 L1137.7,691 L1138.7,688.2 L1139.6,677.1 L1140.6,676.1 L1141.5,662.6 L1142.5,653 L1143.4,661.5 L1144.4,649.9 L1145.3,684.9 L1146.3,663.3 L1147.2,649.1 L1148.2,671.6 L1149.1,664.8 L1150.1,658.7 L1151,666.9 L1152,667.7 L1153,669.4 L1153.9,655 L1154.9,688.1 L1155.8,658.1 L1156.8,664.5 L1157.7,674.5 L1158.7,661.5 L1159.6,673.2 L1160.6,652.1 L1161.5,666.9 L1162.5,679.6 L1163.4,639.9 L1164.4,659.3 L1165.3,643.9 L1166.3,648.5 L1167.2,635.5 L1168.2,646.5 L1169.1,664.7 L1170.1,653.4 L1171,635.6 L1172,647.9 L1172.9,647.2 L1173.9,646.5 L1174.8,666.6 L1175.8,644.4 L1176.7,654.4 L1177.7,635.8 L1178.7,653.8 L1179.6,658.5 L1180.6,650.5 L1181.5,636.9 L1182.5,636.3 L1183.4,638.6 L1184.4,651.4 L1185.3,649 L1186.3,635.9 L1187.2,653.2 L1188.2,647.3 L1189.1,634.9 L1190.1,641.9 L1191,646.1 L1192,639.7 L1192.9,626.5 L1193.9,642.9 L1194.8,656.4 L1195.8,652.9 L1196.7,655.1 L1197.7,642.9 L1198.6,659.5 L1199.6,633.4 L1200.5,636.3 L1201.5,643.9 L1202.5,638.2 L1203.4,634.7 L1204.4,632.3 L1205.3,642.8 L1206.3,619.8 L1207.2,651.5 L1208.2,654.3 L1209.1,642.2 L1210.1,658.6 L1211,642.6 L1212,640.2 L1212.9,652.1 L1213.9,654.6 L1214.8,656.7 L1215.8,617.7 L1216.7,633.4 L1217.7,627.6 L1218.6,635.4 L1219.6,635.6 L1220.5,654.3 L1221.5,660.7 L1222.4,654.3 L1223.4,650.7 L1224.3,658.5 L1225.3,666.4 L1226.2,647.7 L1227.2,650.6 L1228.2,654.4 L1229.1,631.3 L1230.1,637.6 L1231,655.8 L1232,650.6 L1232.9,631.8 L1233.9,617.2 L1234.8,634 L1235.8,643.6 L1236.7,642.6 L1237.7,648.6 L1238.6,639.6 L1239.6,637.4 L1240.5,607.7 L1241.5,626 L1242.4,623.3 L1243.4,622.7 L1244.3,646.6 L1245.3,646.8 L1246.2,626.3 L1247.2,637.8 L1248.1,641 L1249.1,615.5 L1250,638.1 L1251,625.2 L1251.9,631 L1252.9,626.6 L1253.9,611.6 L1254.8,628.6 L1255.8,629.5 L1256.7,619.8 L1257.7,619.2 L1258.6,613.8 L1259.6,637.5 L1260.5,622.6 L1261.5,614.6 L1262.4,628.1 L1263.4,627.1 L1264.3,621.1 L1265.3,617.9 L1266.2,624 L1267.2,631.8 L1268.1,638.9 L1269.1,641.5 L1270,604.6 L1271,624.6 L1271.9,626.5 L1272.9,599.9 L1273.8,626.9 L1274.8,630.2 L1275.7,605 L1276.7,611.4 L1277.7,618.4 L1278.6,609.9 L1279.6,627.3 L1280.5,652.5 L1281.5,630.3 L1282.4,629.9 L1283.4,613.7 L1284.3,620.1 L1285.3,627.4 L1286.2,624.5 L1287.2,644.6 L1288.1,628.9 L1289.1,608.2 L1290,619.6 L1291,602.4 L1291.9,618 L1292.9,625.9 L1293.8,620.3 L1294.8,616.2 L1295.7,608.7 L1296.7,614.6 L1297.6,610.5 L1298.6,622.5 L1299.5,622.8 L1300.5,630 L1301.4,644.7 L1302.4,631.5 L1302.4,752.2 L1301.4,744.5 L1300.5,751.2 L1299.5,722.8 L1298.6,742.8 L1297.6,735.6 L1296.7,745.5 L1295.7,729.1 L1294.8,722.8 L1293.8,754 L1292.9,747.7 L1291.9,733.2 L1291,726.1 L1290,726 L1289.1,758.2 L1288.1,747.9 L1287.2,770.5 L1286.2,750.8 L1285.3,753.3 L1284.3,731.8 L1283.4,725.9 L1282.4,749.7 L1281.5,770.2 L1280.5,762.4 L1279.6,741.7 L1278.6,730 L1277.7,740.7 L1276.7,726.1 L1275.7,739.2 L1274.8,737.7 L1273.8,739.3 L1272.9,729.7 L1271.9,750.7 L1271,732.5 L1270,701.5 L1269.1,757.2 L1268.1,736.2 L1267.2,737.3 L1266.2,729.4 L1265.3,752.3 L1264.3,736.5 L1263.4,762.8 L1262.4,754.7 L1261.5,750.7 L1260.5,730.7 L1259.6,740.6 L1258.6,736.2 L1257.7,730 L1256.7,734.8 L1255.8,740.9 L1254.8,747.2 L1253.9,732.8 L1252.9,729.5 L1251.9,743.6 L1251,746.8 L1250,753.2 L1249.1,747.7 L1248.1,745.2 L1247.2,758.8 L1246.2,729.7 L1245.3,745.9 L1244.3,743.8 L1243.4,753.3 L1242.4,730.3 L1241.5,739.1 L1240.5,741.3 L1239.6,769.2 L1238.6,746.6 L1237.7,750.7 L1236.7,751.9 L1235.8,749 L1234.8,742.5 L1233.9,736.4 L1232.9,742.3 L1232,773.4 L1231,747.2 L1230.1,746.8 L1229.1,754.4 L1228.2,783.9 L1227.2,762.5 L1226.2,751.7 L1225.3,757.7 L1224.3,764.4 L1223.4,775.5 L1222.4,770.7 L1221.5,777.7 L1220.5,756.8 L1219.6,747.6 L1218.6,760 L1217.7,736 L1216.7,732 L1215.8,760.4 L1214.8,755.2 L1213.9,756.1 L1212.9,746.4 L1212,765.7 L1211,744.9 L1210.1,771.8 L1209.1,736.7 L1208.2,751.7 L1207.2,752 L1206.3,740.1 L1205.3,741.4 L1204.4,746.2 L1203.4,745.6 L1202.5,740.7 L1201.5,762.2 L1200.5,739.3 L1199.6,730.4 L1198.6,765.2 L1197.7,760.4 L1196.7,769.9 L1195.8,766.3 L1194.8,742.6 L1193.9,748.8 L1192.9,759.6 L1192,740.5 L1191,756.4 L1190.1,756.8 L1189.1,754.9 L1188.2,729.5 L1187.2,748.2 L1186.3,750.7 L1185.3,744.5 L1184.4,742 L1183.4,749.2 L1182.5,733.5 L1181.5,745.2 L1180.6,755.4 L1179.6,746.9 L1178.7,750.6 L1177.7,740.5 L1176.7,752.1 L1175.8,742.3 L1174.8,761.1 L1173.9,751.8 L1172.9,756.3 L1172,742 L1171,761.7 L1170.1,766.7 L1169.1,743.1 L1168.2,737.7 L1167.2,761.8 L1166.3,727.8 L1165.3,736.8 L1164.4,767.1 L1163.4,768 L1162.5,770 L1161.5,769.6 L1160.6,777.7 L1159.6,756.9 L1158.7,748.9 L1157.7,779.2 L1156.8,747.6 L1155.8,756.3 L1154.9,787.6 L1153.9,769.4 L1153,765.4 L1152,771.3 L1151,755.6 L1150.1,753.9 L1149.1,760.5 L1148.2,767.8 L1147.2,770.9 L1146.3,752.7 L1145.3,756.8 L1144.4,756.8 L1143.4,780.6 L1142.5,754.5 L1141.5,755.1 L1140.6,756.5 L1139.6,765.3 L1138.7,782.4 L1137.7,779.5 L1136.8,779.6 L1135.8,768.3 L1134.9,774 L1133.9,750 L1133,762.6 L1132,764.4 L1131.1,771.9 L1130.1,757 L1129.2,752.7 L1128.2,767.6 L1127.2,786.7 L1126.3,761.6 L1125.3,756.9 L1124.4,765.7 L1123.4,758.3 L1122.5,761.5 L1121.5,776.7 L1120.6,770.1 L1119.6,776.4 L1118.7,785.5 L1117.7,761.7 L1116.8,790.2 L1115.8,787.3 L1114.9,753.8 L1113.9,779 L1113,767.4 L1112,772 L1111.1,787.1 L1110.1,793.4 L1109.2,770.8 L1108.2,782.4 L1107.3,771.7 L1106.3,795.2 L1105.4,784.3 L1104.4,783.5 L1103.5,778.2 L1102.5,791.7 L1101.5,778.5 L1100.6,798 L1099.6,788.4 L1098.7,811.6 L1097.7,789.6 L1096.8,774.8 L1095.8,820.6 L1094.9,792.4 L1093.9,773.5 L1093,805.6 L1092,788.1 L1091.1,797.6 L1090.1,806.4 L1089.2,803.7 L1088.2,799.3 L1087.3,799 L1086.3,789.1 L1085.4,813.3 L1084.4,793.4 L1083.5,802 L1082.5,797.4 L1081.6,830.1 L1080.6,802 L1079.7,791.3 L1078.7,822.9 L1077.8,805.4 L1076.8,830.8 L1075.8,816.3 L1074.9,816.9 L1073.9,800.3 L1073,796.5 L1072,793.7 L1071.1,807.4 L1070.1,810.2 L1069.2,790.4 L1068.2,815 L1067.3,811.3 L1066.3,817.1 L1065.4,831.1 L1064.4,815.2 L1063.5,808.5 L1062.5,811.4 L1061.6,811.6 L1060.6,819.6 L1059.7,822.3 L1058.7,843.7 L1057.8,818.3 L1056.8,830 L1055.9,851.8 L1054.9,826.1 L1054,826 L1053,820 L1052,842.1 L1051.1,824.4 L1050.1,840.2 L1049.2,854 L1048.2,834.1 L1047.3,837.2 L1046.3,822 L1045.4,825.1 L1044.4,831.8 L1043.5,858.6 L1042.5,848.9 L1041.6,847.6 L1040.6,859 L1039.7,837.7 L1038.7,849.5 L1037.8,849.4 L1036.8,841.1 L1035.9,851.3 L1034.9,863.5 L1034,871 L1033,840.2 L1032.1,838.2 L1031.1,847.3 L1030.2,866.5 L1029.2,850.9 L1028.3,854.3 L1027.3,870.5 L1026.3,851.4 L1025.4,885 L1024.4,863.5 L1023.5,865.6 L1022.5,865.5 L1021.6,865.6 L1020.6,866.5 L1019.7,866 L1018.7,858.6 L1017.8,875.1 L1016.8,879.3 L1015.9,845.2 L1014.9,875.2 L1014,869.7 L1013,886.9 L1012.1,884.8 L1011.1,884.9 L1010.2,867.1 L1009.2,868.8 L1008.3,887.2 L1007.3,874.3 L1006.4,878.6 L1005.4,879.3 L1004.5,871 L1003.5,881.5 L1002.6,897.5 L1001.6,885.5 L1000.6,911.1 L999.7,888.5 L998.7,879.8 L997.8,875.2 L996.8,893.6 L995.9,906.7 L994.9,912.6 L994,887 L993,892.7 L992.1,895.3 L991.1,875.6 L990.2,888.1 L989.2,880.9 L988.3,901.9 L987.3,896.4 L986.4,896.5 L985.4,880.8 L984.5,904.3 L983.5,890.4 L982.6,904.5 L981.6,886.3 L980.7,895.2 L979.7,897 L978.8,895.3 L977.8,889.1 L976.8,906.7 L975.9,880.6 L974.9,900.6 L974,892.9 L973,880.3 L972.1,923.2 L971.1,902.9 L970.2,893.5 L969.2,896 L968.3,901 L967.3,890.5 L966.4,899.9 L965.4,920.8 L964.5,918.2 L963.5,916 L962.6,932.5 L961.6,931.3 L960.7,917.4 L959.7,899.2 L958.8,924.3 L957.8,917.6 L956.9,924.5 L955.9,900.3 L955,893.4 L954,918.3 L953.1,917.9 L952.1,914.8 L951.1,917.3 L950.2,934.1 L949.2,918.5 L948.3,911.2 L947.3,923.1 L946.4,904.8 L945.4,933.5 L944.5,918.8 L943.5,934.1 L942.6,918 L941.6,930.2 L940.7,919.2 L939.7,922.3 L938.8,930.2 L937.8,926.5 L936.9,914.4 L935.9,930.2 L935,947.4 L934,929.5 L933.1,914.1 L932.1,909.3 L931.2,933.8 L930.2,940.1 L929.3,963.2 L928.3,937.3 L927.3,960.7 L926.4,983.2 L925.4,994.3 L924.5,975.8 L923.5,975.7 L922.6,983.8 L921.6,955.5 L920.7,928.7 L919.7,919.6 L918.8,917.9 L917.8,909.3 L916.9,907.7 L915.9,914.3 L915,910.2 L914,910.4 L913.1,906.1 L912.1,917.2 L911.2,930.5 L910.2,909.1 L909.3,911.4 L908.3,921.9 L907.4,919.6 L906.4,918.7 L905.5,914.5 L904.5,928.2 L903.6,901.9 L902.6,901.4 L901.6,921.5 L900.7,904.7 L899.7,916.8 L898.8,925.9 L897.8,907.5 L896.9,907 L895.9,909.7 L895,925.9 L894,918.5 L893.1,906.5 L892.1,927.2 L891.2,901.4 L890.2,928.1 L889.3,913.5 L888.3,928 L887.4,934 L886.4,944.4 L885.5,927.2 L884.5,907.4 L883.6,913.2 L882.6,922.2 L881.7,936.8 L880.7,934.6 L879.8,915.3 L878.8,908.3 L877.9,909.1 L876.9,907.9 L875.9,912.1 L875,915.3 L874,905.3 L873.1,924 L872.1,930.3 L871.2,927.6 L870.2,925 L869.3,926.2 L868.3,917.2 L867.4,919.6 L866.4,918.1 L865.5,907.9 L864.5,918.9 L863.6,915.1 L862.6,934 L861.7,931.8 L860.7,908 L859.8,910.8 L858.8,931.4 L857.9,918.6 L856.9,948.6 L856,934.2 L855,945.2 L854.1,927.5 L853.1,924.3 L852.1,936.6 L851.2,925.7 L850.2,936 L849.3,924.6 L848.3,934.3 L847.4,929.1 L846.4,926.1 L845.5,929.4 L844.5,926.8 L843.6,908.5 L842.6,924.4 L841.7,909.6 L840.7,931.1 L839.8,917.2 L838.8,929.5 L837.9,928.3 L836.9,919.2 L836,928 L835,918.4 L834.1,939.9 L833.1,924.6 L832.2,910.9 L831.2,939.4 L830.3,940.3 L829.3,936.3 L828.4,923.7 L827.4,911.6 Z" fill="#ecc0c4" stroke="none"/>
<path d="M827.4,861.9 L828.4,872.6 L829.3,871.4 L830.3,877.8 L831.2,850.7 L832.2,843 L833.1,850.2 L834.1,878.8 L835,884.7 L836,852.8 L836.9,867.2 L837.9,860.8 L838.8,851.3 L839.8,867.3 L840.7,861.4 L841.7,873.1 L842.6,873.4 L843.6,874.5 L844.5,846.1 L845.5,853.5 L846.4,857.8 L847.4,877.4 L848.3,875 L849.3,883.5 L850.2,883.2 L851.2,876.4 L852.1,870.8 L853.1,862.6 L854.1,856.7 L855,864.5 L856,882.3 L856.9,871.4 L857.9,864.5 L858.8,878.6 L859.8,865.9 L860.7,869 L861.7,871.1 L862.6,884 L863.6,882.1 L864.5,877.4 L865.5,875 L866.4,868 L867.4,875.9 L868.3,877.3 L869.3,878 L870.2,872 L871.2,864.4 L872.1,873.1 L873.1,847.1 L874,852.1 L875,857.4 L875.9,866 L876.9,863.9 L877.9,867.5 L878.8,872.3 L879.8,874.5 L880.7,865.2 L881.7,867.1 L882.6,858.1 L883.6,853.5 L884.5,872.4 L885.5,880.2 L886.4,871.7 L887.4,884.4 L888.3,866.2 L889.3,872.1 L890.2,868 L891.2,828.7 L892.1,861.4 L893.1,858.5 L894,861 L895,871.6 L895.9,864.8 L896.9,852.5 L897.8,849 L898.8,868.1 L899.7,847.8 L900.7,867.6 L901.6,861.9 L902.6,862.5 L903.6,856 L904.5,880.3 L905.5,842.8 L906.4,889.1 L907.4,853.8 L908.3,879.2 L909.3,879.6 L910.2,871.3 L911.2,856.6 L912.1,841.6 L913.1,868.1 L914,865 L915,856.3 L915.9,856.1 L916.9,872.1 L917.8,852.2 L918.8,853.3 L919.7,874.6 L920.7,867.9 L921.6,905.9 L922.6,934.7 L923.5,929.9 L924.5,907.4 L925.4,943 L926.4,908.9 L927.3,908.7 L928.3,890.5 L929.3,905.6 L930.2,889.1 L931.2,872.8 L932.1,867.5 L933.1,858.7 L934,863.4 L935,892.4 L935.9,871.7 L936.9,838 L937.8,873.5 L938.8,867.4 L939.7,891.2 L940.7,872.1 L941.6,872.8 L942.6,861.4 L943.5,872.4 L944.5,864.8 L945.4,830.2 L946.4,861.5 L947.3,867.5 L948.3,857.6 L949.2,870.1 L950.2,854 L951.1,845.9 L952.1,861.9 L953.1,857.5 L954,845.2 L955,854.2 L955.9,860.3 L956.9,851.2 L957.8,853.4 L958.8,859.7 L959.7,848.6 L960.7,872.6 L961.6,843.5 L962.6,861.3 L963.5,870.8 L964.5,870.3 L965.4,847.6 L966.4,853.5 L967.3,833.3 L968.3,844.4 L969.2,841.4 L970.2,837.9 L971.1,865.5 L972.1,878.2 L973,821.9 L974,832 L974.9,836.4 L975.9,814.1 L976.8,847.6 L977.8,842.5 L978.8,834.3 L979.7,854.7 L980.7,834.2 L981.6,825.8 L982.6,844.9 L983.5,840.9 L984.5,846.2 L985.4,843.8 L986.4,822.5 L987.3,831.2 L988.3,832.6 L989.2,818.8 L990.2,836 L991.1,812.9 L992.1,826.5 L993,822.6 L994,833.3 L994.9,815 L995.9,814.7 L996.8,811.1 L997.8,812.4 L998.7,794.4 L999.7,797.9 L1000.6,821.9 L1001.6,823.5 L1002.6,817.8 L1003.5,829.6 L1004.5,818.1 L1005.4,816.8 L1006.4,816 L1007.3,825 L1008.3,788.6 L1009.2,798 L1010.2,808.2 L1011.1,819.3 L1012.1,800.1 L1013,799 L1014,805 L1014.9,800 L1015.9,783.4 L1016.8,794.3 L1017.8,795 L1018.7,792.1 L1019.7,795.7 L1020.6,790.8 L1021.6,772.1 L1022.5,774 L1023.5,791.8 L1024.4,800.4 L1025.4,780.5 L1026.3,797.3 L1027.3,792.7 L1028.3,793.5 L1029.2,790.1 L1030.2,787.5 L1031.1,774.2 L1032.1,764.8 L1033,779.2 L1034,791.5 L1034.9,777.9 L1035.9,769 L1036.8,755.2 L1037.8,783.9 L1038.7,773.6 L1039.7,764.2 L1040.6,786.5 L1041.6,763.6 L1042.5,782.2 L1043.5,784.6 L1044.4,744.1 L1045.4,756.6 L1046.3,735.8 L1047.3,753.3 L1048.2,763.5 L1049.2,770.4 L1050.1,764.5 L1051.1,756.7 L1052,761.6 L1053,753 L1054,749.2 L1054.9,756 L1055.9,761.4 L1056.8,762.5 L1057.8,750.6 L1058.7,746.9 L1059.7,756.3 L1060.6,737.9 L1061.6,743.3 L1062.5,729.3 L1063.5,732 L1064.4,724 L1065.4,735.3 L1066.3,719.4 L1067.3,739.2 L1068.2,737.4 L1069.2,710.3 L1070.1,740.3 L1071.1,747.4 L1072,707.5 L1073,719.8 L1073.9,735.5 L1074.9,720 L1075.8,744.2 L1076.8,737.8 L1077.8,726.3 L1078.7,712 L1079.7,702.1 L1080.6,732.5 L1081.6,733.1 L1082.5,716.9 L1083.5,708.9 L1084.4,739.1 L1085.4,729.7 L1086.3,719.3 L1087.3,739.5 L1088.2,720.1 L1089.2,716.7 L1090.1,707.1 L1091.1,719.6 L1092,707.4 L1093,706.3 L1093.9,696.7 L1094.9,714 L1095.8,722 L1096.8,704 L1097.7,683.7 L1098.7,702.7 L1099.6,705.6 L1100.6,718 L1101.5,705 L1102.5,689.3 L1103.5,694.1 L1104.4,712.7 L1105.4,687.2 L1106.3,706.6 L1107.3,701.5 L1108.2,714.5 L1109.2,662 L1110.1,687.6 L1111.1,684.5 L1112,707.7 L1113,681.5 L1113.9,690.3 L1114.9,679 L1115.8,697.7 L1116.8,685 L1117.7,693.7 L1118.7,701.5 L1119.6,699.4 L1120.6,686.9 L1121.5,695.8 L1122.5,680.3 L1123.4,670.6 L1124.4,680.8 L1125.3,669.8 L1126.3,684.2 L1127.2,674.4 L1128.2,690.6 L1129.2,676.2 L1130.1,672 L1131.1,685.4 L1132,678.7 L1133,678.1 L1133.9,654.1 L1134.9,648.2 L1135.8,676.3 L1136.8,679.7 L1137.7,691 L1138.7,688.2 L1139.6,677.1 L1140.6,676.1 L1141.5,662.6 L1142.5,653 L1143.4,661.5 L1144.4,649.9 L1145.3,684.9 L1146.3,663.3 L1147.2,649.1 L1148.2,671.6 L1149.1,664.8 L1150.1,658.7 L1151,666.9 L1152,667.7 L1153,669.4 L1153.9,655 L1154.9,688.1 L1155.8,658.1 L1156.8,664.5 L1157.7,674.5 L1158.7,661.5 L1159.6,673.2 L1160.6,652.1 L1161.5,666.9 L1162.5,679.6 L1163.4,639.9 L1164.4,659.3 L1165.3,643.9 L1166.3,648.5 L1167.2,635.5 L1168.2,646.5 L1169.1,664.7 L1170.1,653.4 L1171,635.6 L1172,647.9 L1172.9,647.2 L1173.9,646.5 L1174.8,666.6 L1175.8,644.4 L1176.7,654.4 L1177.7,635.8 L1178.7,653.8 L1179.6,658.5 L1180.6,650.5 L1181.5,636.9 L1182.5,636.3 L1183.4,638.6 L1184.4,651.4 L1185.3,649 L1186.3,635.9 L1187.2,653.2 L1188.2,647.3 L1189.1,634.9 L1190.1,641.9 L1191,646.1 L1192,639.7 L1192.9,626.5 L1193.9,642.9 L1194.8,656.4 L1195.8,652.9 L1196.7,655.1 L1197.7,642.9 L1198.6,659.5 L1199.6,633.4 L1200.5,636.3 L1201.5,643.9 L1202.5,638.2 L1203.4,634.7 L1204.4,632.3 L1205.3,642.8 L1206.3,619.8 L1207.2,651.5 L1208.2,654.3 L1209.1,642.2 L1210.1,658.6 L1211,642.6 L1212,640.2 L1212.9,652.1 L1213.9,654.6 L1214.8,656.7 L1215.8,617.7 L1216.7,633.4 L1217.7,627.6 L1218.6,635.4 L1219.6,635.6 L1220.5,654.3 L1221.5,660.7 L1222.4,654.3 L1223.4,650.7 L1224.3,658.5 L1225.3,666.4 L1226.2,647.7 L1227.2,650.6 L1228.2,654.4 L1229.1,631.3 L1230.1,637.6 L1231,655.8 L1232,650.6 L1232.9,631.8 L1233.9,617.2 L1234.8,634 L1235.8,643.6 L1236.7,642.6 L1237.7,648.6 L1238.6,639.6 L1239.6,637.4 L1240.5,607.7 L1241.5,626 L1242.4,623.3 L1243.4,622.7 L1244.3,646.6 L1245.3,646.8 L1246.2,626.3 L1247.2,637.8 L1248.1,641 L1249.1,615.5 L1250,638.1 L1251,625.2 L1251.9,631 L1252.9,626.6 L1253.9,611.6 L1254.8,628.6 L1255.8,629.5 L1256.7,619.8 L1257.7,619.2 L1258.6,613.8 L1259.6,637.5 L1260.5,622.6 L1261.5,614.6 L1262.4,628.1 L1263.4,627.1 L1264.3,621.1 L1265.3,617.9 L1266.2,624 L1267.2,631.8 L1268.1,638.9 L1269.1,641.5 L1270,604.6 L1271,624.6 L1271.9,626.5 L1272.9,599.9 L1273.8,626.9 L1274.8,630.2 L1275.7,605 L1276.7,611.4 L1277.7,618.4 L1278.6,609.9 L1279.6,627.3 L1280.5,652.5 L1281.5,630.3 L1282.4,629.9 L1283.4,613.7 L1284.3,620.1 L1285.3,627.4 L1286.2,624.5 L1287.2,644.6 L1288.1,628.9 L1289.1,608.2 L1290,619.6 L1291,602.4 L1291.9,618 L1292.9,625.9 L1293.8,620.3 L1294.8,616.2 L1295.7,608.7 L1296.7,614.6 L1297.6,610.5 L1298.6,622.5 L1299.5,622.8 L1300.5,630 L1301.4,644.7 L1302.4,631.5" fill="none" stroke="#e4a7ad" stroke-width="1.4" stroke-linejoin="round"/>
<path d="M827.4,911.6 L828.4,923.7 L829.3,936.3 L830.3,940.3 L831.2,939.4 L832.2,910.9 L833.1,924.6 L834.1,939.9 L835,918.4 L836,928 L836.9,919.2 L837.9,928.3 L838.8,929.5 L839.8,917.2 L840.7,931.1 L841.7,909.6 L842.6,924.4 L843.6,908.5 L844.5,926.8 L845.5,929.4 L846.4,926.1 L847.4,929.1 L848.3,934.3 L849.3,924.6 L850.2,936 L851.2,925.7 L852.1,936.6 L853.1,924.3 L854.1,927.5 L855,945.2 L856,934.2 L856.9,948.6 L857.9,918.6 L858.8,931.4 L859.8,910.8 L860.7,908 L861.7,931.8 L862.6,934 L863.6,915.1 L864.5,918.9 L865.5,907.9 L866.4,918.1 L867.4,919.6 L868.3,917.2 L869.3,926.2 L870.2,925 L871.2,927.6 L872.1,930.3 L873.1,924 L874,905.3 L875,915.3 L875.9,912.1 L876.9,907.9 L877.9,909.1 L878.8,908.3 L879.8,915.3 L880.7,934.6 L881.7,936.8 L882.6,922.2 L883.6,913.2 L884.5,907.4 L885.5,927.2 L886.4,944.4 L887.4,934 L888.3,928 L889.3,913.5 L890.2,928.1 L891.2,901.4 L892.1,927.2 L893.1,906.5 L894,918.5 L895,925.9 L895.9,909.7 L896.9,907 L897.8,907.5 L898.8,925.9 L899.7,916.8 L900.7,904.7 L901.6,921.5 L902.6,901.4 L903.6,901.9 L904.5,928.2 L905.5,914.5 L906.4,918.7 L907.4,919.6 L908.3,921.9 L909.3,911.4 L910.2,909.1 L911.2,930.5 L912.1,917.2 L913.1,906.1 L914,910.4 L915,910.2 L915.9,914.3 L916.9,907.7 L917.8,909.3 L918.8,917.9 L919.7,919.6 L920.7,928.7 L921.6,955.5 L922.6,983.8 L923.5,975.7 L924.5,975.8 L925.4,994.3 L926.4,983.2 L927.3,960.7 L928.3,937.3 L929.3,963.2 L930.2,940.1 L931.2,933.8 L932.1,909.3 L933.1,914.1 L934,929.5 L935,947.4 L935.9,930.2 L936.9,914.4 L937.8,926.5 L938.8,930.2 L939.7,922.3 L940.7,919.2 L941.6,930.2 L942.6,918 L943.5,934.1 L944.5,918.8 L945.4,933.5 L946.4,904.8 L947.3,923.1 L948.3,911.2 L949.2,918.5 L950.2,934.1 L951.1,917.3 L952.1,914.8 L953.1,917.9 L954,918.3 L955,893.4 L955.9,900.3 L956.9,924.5 L957.8,917.6 L958.8,924.3 L959.7,899.2 L960.7,917.4 L961.6,931.3 L962.6,932.5 L963.5,916 L964.5,918.2 L965.4,920.8 L966.4,899.9 L967.3,890.5 L968.3,901 L969.2,896 L970.2,893.5 L971.1,902.9 L972.1,923.2 L973,880.3 L974,892.9 L974.9,900.6 L975.9,880.6 L976.8,906.7 L977.8,889.1 L978.8,895.3 L979.7,897 L980.7,895.2 L981.6,886.3 L982.6,904.5 L983.5,890.4 L984.5,904.3 L985.4,880.8 L986.4,896.5 L987.3,896.4 L988.3,901.9 L989.2,880.9 L990.2,888.1 L991.1,875.6 L992.1,895.3 L993,892.7 L994,887 L994.9,912.6 L995.9,906.7 L996.8,893.6 L997.8,875.2 L998.7,879.8 L999.7,888.5 L1000.6,911.1 L1001.6,885.5 L1002.6,897.5 L1003.5,881.5 L1004.5,871 L1005.4,879.3 L1006.4,878.6 L1007.3,874.3 L1008.3,887.2 L1009.2,868.8 L1010.2,867.1 L1011.1,884.9 L1012.1,884.8 L1013,886.9 L1014,869.7 L1014.9,875.2 L1015.9,845.2 L1016.8,879.3 L1017.8,875.1 L1018.7,858.6 L1019.7,866 L1020.6,866.5 L1021.6,865.6 L1022.5,865.5 L1023.5,865.6 L1024.4,863.5 L1025.4,885 L1026.3,851.4 L1027.3,870.5 L1028.3,854.3 L1029.2,850.9 L1030.2,866.5 L1031.1,847.3 L1032.1,838.2 L1033,840.2 L1034,871 L1034.9,863.5 L1035.9,851.3 L1036.8,841.1 L1037.8,849.4 L1038.7,849.5 L1039.7,837.7 L1040.6,859 L1041.6,847.6 L1042.5,848.9 L1043.5,858.6 L1044.4,831.8 L1045.4,825.1 L1046.3,822 L1047.3,837.2 L1048.2,834.1 L1049.2,854 L1050.1,840.2 L1051.1,824.4 L1052,842.1 L1053,820 L1054,826 L1054.9,826.1 L1055.9,851.8 L1056.8,830 L1057.8,818.3 L1058.7,843.7 L1059.7,822.3 L1060.6,819.6 L1061.6,811.6 L1062.5,811.4 L1063.5,808.5 L1064.4,815.2 L1065.4,831.1 L1066.3,817.1 L1067.3,811.3 L1068.2,815 L1069.2,790.4 L1070.1,810.2 L1071.1,807.4 L1072,793.7 L1073,796.5 L1073.9,800.3 L1074.9,816.9 L1075.8,816.3 L1076.8,830.8 L1077.8,805.4 L1078.7,822.9 L1079.7,791.3 L1080.6,802 L1081.6,830.1 L1082.5,797.4 L1083.5,802 L1084.4,793.4 L1085.4,813.3 L1086.3,789.1 L1087.3,799 L1088.2,799.3 L1089.2,803.7 L1090.1,806.4 L1091.1,797.6 L1092,788.1 L1093,805.6 L1093.9,773.5 L1094.9,792.4 L1095.8,820.6 L1096.8,774.8 L1097.7,789.6 L1098.7,811.6 L1099.6,788.4 L1100.6,798 L1101.5,778.5 L1102.5,791.7 L1103.5,778.2 L1104.4,783.5 L1105.4,784.3 L1106.3,795.2 L1107.3,771.7 L1108.2,782.4 L1109.2,770.8 L1110.1,793.4 L1111.1,787.1 L1112,772 L1113,767.4 L1113.9,779 L1114.9,753.8 L1115.8,787.3 L1116.8,790.2 L1117.7,761.7 L1118.7,785.5 L1119.6,776.4 L1120.6,770.1 L1121.5,776.7 L1122.5,761.5 L1123.4,758.3 L1124.4,765.7 L1125.3,756.9 L1126.3,761.6 L1127.2,786.7 L1128.2,767.6 L1129.2,752.7 L1130.1,757 L1131.1,771.9 L1132,764.4 L1133,762.6 L1133.9,750 L1134.9,774 L1135.8,768.3 L1136.8,779.6 L1137.7,779.5 L1138.7,782.4 L1139.6,765.3 L1140.6,756.5 L1141.5,755.1 L1142.5,754.5 L1143.4,780.6 L1144.4,756.8 L1145.3,756.8 L1146.3,752.7 L1147.2,770.9 L1148.2,767.8 L1149.1,760.5 L1150.1,753.9 L1151,755.6 L1152,771.3 L1153,765.4 L1153.9,769.4 L1154.9,787.6 L1155.8,756.3 L1156.8,747.6 L1157.7,779.2 L1158.7,748.9 L1159.6,756.9 L1160.6,777.7 L1161.5,769.6 L1162.5,770 L1163.4,768 L1164.4,767.1 L1165.3,736.8 L1166.3,727.8 L1167.2,761.8 L1168.2,737.7 L1169.1,743.1 L1170.1,766.7 L1171,761.7 L1172,742 L1172.9,756.3 L1173.9,751.8 L1174.8,761.1 L1175.8,742.3 L1176.7,752.1 L1177.7,740.5 L1178.7,750.6 L1179.6,746.9 L1180.6,755.4 L1181.5,745.2 L1182.5,733.5 L1183.4,749.2 L1184.4,742 L1185.3,744.5 L1186.3,750.7 L1187.2,748.2 L1188.2,729.5 L1189.1,754.9 L1190.1,756.8 L1191,756.4 L1192,740.5 L1192.9,759.6 L1193.9,748.8 L1194.8,742.6 L1195.8,766.3 L1196.7,769.9 L1197.7,760.4 L1198.6,765.2 L1199.6,730.4 L1200.5,739.3 L1201.5,762.2 L1202.5,740.7 L1203.4,745.6 L1204.4,746.2 L1205.3,741.4 L1206.3,740.1 L1207.2,752 L1208.2,751.7 L1209.1,736.7 L1210.1,771.8 L1211,744.9 L1212,765.7 L1212.9,746.4 L1213.9,756.1 L1214.8,755.2 L1215.8,760.4 L1216.7,732 L1217.7,736 L1218.6,760 L1219.6,747.6 L1220.5,756.8 L1221.5,777.7 L1222.4,770.7 L1223.4,775.5 L1224.3,764.4 L1225.3,757.7 L1226.2,751.7 L1227.2,762.5 L1228.2,783.9 L1229.1,754.4 L1230.1,746.8 L1231,747.2 L1232,773.4 L1232.9,742.3 L1233.9,736.4 L1234.8,742.5 L1235.8,749 L1236.7,751.9 L1237.7,750.7 L1238.6,746.6 L1239.6,769.2 L1240.5,741.3 L1241.5,739.1 L1242.4,730.3 L1243.4,753.3 L1244.3,743.8 L1245.3,745.9 L1246.2,729.7 L1247.2,758.8 L1248.1,745.2 L1249.1,747.7 L1250,753.2 L1251,746.8 L1251.9,743.6 L1252.9,729.5 L1253.9,732.8 L1254.8,747.2 L1255.8,740.9 L1256.7,734.8 L1257.7,730 L1258.6,736.2 L1259.6,740.6 L1260.5,730.7 L1261.5,750.7 L1262.4,754.7 L1263.4,762.8 L1264.3,736.5 L1265.3,752.3 L1266.2,729.4 L1267.2,737.3 L1268.1,736.2 L1269.1,757.2 L1270,701.5 L1271,732.5 L1271.9,750.7 L1272.9,729.7 L1273.8,739.3 L1274.8,737.7 L1275.7,739.2 L1276.7,726.1 L1277.7,740.7 L1278.6,730 L1279.6,741.7 L1280.5,762.4 L1281.5,770.2 L1282.4,749.7 L1283.4,725.9 L1284.3,731.8 L1285.3,753.3 L1286.2,750.8 L1287.2,770.5 L1288.1,747.9 L1289.1,758.2 L1290,726 L1291,726.1 L1291.9,733.2 L1292.9,747.7 L1293.8,754 L1294.8,722.8 L1295.7,729.1 L1296.7,745.5 L1297.6,735.6 L1298.6,742.8 L1299.5,722.8 L1300.5,751.2 L1301.4,744.5 L1302.4,752.2" fill="none" stroke="#e4a7ad" stroke-width="1.4" stroke-linejoin="round"/>
<path d="M827.4,887.8 L828.4,895 L829.3,906.2 L830.3,898.1 L831.2,894.4 L832.2,895.9 L833.1,890.4 L834.1,904.2 L835,900.1 L836,890.2 L836.9,896.1 L837.9,891.6 L838.8,906.7 L839.8,889.6 L840.7,897.1 L841.7,896.1 L842.6,906.3 L843.6,892 L844.5,890.8 L845.5,900.1 L846.4,896.5 L847.4,906.3 L848.3,910.6 L849.3,909.3 L850.2,906.3 L851.2,896.3 L852.1,905.2 L853.1,901.6 L854.1,889.7 L855,898.5 L856,904.3 L856.9,901.7 L857.9,888.5 L858.8,891.8 L859.8,891.1 L860.7,883.2 L861.7,899.2 L862.6,901.7 L863.6,895.6 L864.5,899.7 L865.5,892.3 L866.4,889.4 L867.4,895.4 L868.3,893.7 L869.3,903.3 L870.2,900.9 L871.2,885.3 L872.1,896.3 L873.1,889.1 L874,877.7 L875,889.7 L875.9,892.5 L876.9,887.9 L877.9,890.9 L878.8,892.7 L879.8,887.1 L880.7,893.7 L881.7,906.4 L882.6,896.5 L883.6,889.1 L884.5,895.7 L885.5,900.8 L886.4,897.1 L887.4,898.5 L888.3,893.4 L889.3,895 L890.2,888.4 L891.2,881.8 L892.1,889.6 L893.1,877.5 L894,887.5 L895,895 L895.9,884.7 L896.9,884.2 L897.8,885.1 L898.8,898.9 L899.7,877.6 L900.7,885.2 L901.6,904.8 L902.6,884.3 L903.6,880.9 L904.5,896.2 L905.5,876.7 L906.4,900 L907.4,894.6 L908.3,903.8 L909.3,889.9 L910.2,891.7 L911.2,889.5 L912.1,885.1 L913.1,884.3 L914,890.7 L915,874.6 L915.9,879.5 L916.9,890.4 L917.8,885.6 L918.8,877.1 L919.7,894.6 L920.7,894.9 L921.6,932.6 L922.6,968.3 L923.5,948 L924.5,942.8 L925.4,957.7 L926.4,938.6 L927.3,933.1 L928.3,927.8 L929.3,923.6 L930.2,919.9 L931.2,907 L932.1,892.6 L933.1,890.6 L934,898.3 L935,915.6 L935.9,908.9 L936.9,878.1 L937.8,896.5 L938.8,901.7 L939.7,902.1 L940.7,897 L941.6,905.4 L942.6,887 L943.5,899.2 L944.5,888.2 L945.4,888.6 L946.4,881 L947.3,896.4 L948.3,890.4 L949.2,897.2 L950.2,899.1 L951.1,887.9 L952.1,889.2 L953.1,885.5 L954,884 L955,876 L955.9,877.5 L956.9,881 L957.8,880.4 L958.8,884 L959.7,875.3 L960.7,889 L961.6,885.5 L962.6,878.8 L963.5,893.7 L964.5,888.3 L965.4,885.6 L966.4,887.3 L967.3,871.8 L968.3,874.4 L969.2,865.1 L970.2,871.1 L971.1,889.3 L972.1,892.8 L973,864.1 L974,862.6 L974.9,870.8 L975.9,851.9 L976.8,875.9 L977.8,867 L978.8,859.2 L979.7,869.5 L980.7,869.8 L981.6,859.2 L982.6,869.9 L983.5,864.3 L984.5,875.6 L985.4,860.6 L986.4,862.1 L987.3,862.7 L988.3,862.2 L989.2,849.9 L990.2,861.5 L991.1,853.4 L992.1,854.2 L993,850.5 L994,861.3 L994.9,844.5 L995.9,852.8 L996.8,854.7 L997.8,839.4 L998.7,842.2 L999.7,850.5 L1000.6,851.6 L1001.6,851.9 L1002.6,853 L1003.5,849.6 L1004.5,836.8 L1005.4,842.5 L1006.4,848.2 L1007.3,847.4 L1008.3,840 L1009.2,831 L1010.2,839.4 L1011.1,845.6 L1012.1,843.8 L1013,823.7 L1014,833.8 L1014.9,841.4 L1015.9,820.7 L1016.8,838.3 L1017.8,844.5 L1018.7,824.5 L1019.7,831.5 L1020.6,830.9 L1021.6,823.6 L1022.5,825.3 L1023.5,830.1 L1024.4,828.9 L1025.4,826.9 L1026.3,819.3 L1027.3,828 L1028.3,824.4 L1029.2,816.1 L1030.2,826 L1031.1,803.2 L1032.1,800.7 L1033,815.8 L1034,822.4 L1034.9,810.7 L1035.9,811.3 L1036.8,806.4 L1037.8,818.3 L1038.7,810.4 L1039.7,803.4 L1040.6,818.8 L1041.6,805.6 L1042.5,814.3 L1043.5,815.1 L1044.4,803.8 L1045.4,780.7 L1046.3,787.6 L1047.3,803.7 L1048.2,793.1 L1049.2,804.3 L1050.1,801.7 L1051.1,793.4 L1052,799.5 L1053,786.1 L1054,791 L1054.9,791 L1055.9,798.7 L1056.8,795.7 L1057.8,781.7 L1058.7,782.9 L1059.7,782.9 L1060.6,775.4 L1061.6,776.8 L1062.5,771.5 L1063.5,769.8 L1064.4,767.9 L1065.4,769.6 L1066.3,772.6 L1067.3,770.3 L1068.2,771.8 L1069.2,751.9 L1070.1,774.2 L1071.1,772.9 L1072,754.7 L1073,760.9 L1073.9,767.9 L1074.9,766.2 L1075.8,773.4 L1076.8,766.9 L1077.8,756 L1078.7,773.1 L1079.7,755.3 L1080.6,762.4 L1081.6,768.4 L1082.5,759.9 L1083.5,759.1 L1084.4,763.9 L1085.4,772 L1086.3,764.7 L1087.3,763.6 L1088.2,759.5 L1089.2,760.3 L1090.1,760.2 L1091.1,750.8 L1092,752.6 L1093,757.6 L1093.9,735.5 L1094.9,751.3 L1095.8,757.8 L1096.8,747.9 L1097.7,737.7 L1098.7,745.6 L1099.6,753.3 L1100.6,749.8 L1101.5,737.9 L1102.5,745.2 L1103.5,747.7 L1104.4,742.5 L1105.4,738.3 L1106.3,747.7 L1107.3,737.3 L1108.2,752.8 L1109.2,731.3 L1110.1,727.8 L1111.1,730.3 L1112,738.2 L1113,732.1 L1113.9,728.5 L1114.9,720.8 L1115.8,741.1 L1116.8,736.8 L1117.7,733.6 L1118.7,736.9 L1119.6,736.4 L1120.6,726.9 L1121.5,724.7 L1122.5,726.6 L1123.4,719.8 L1124.4,729.2 L1125.3,708.2 L1126.3,722.8 L1127.2,746.8 L1128.2,731.2 L1129.2,713.2 L1130.1,718.7 L1131.1,721.3 L1132,721 L1133,722.4 L1133.9,709.5 L1134.9,710.5 L1135.8,727.2 L1136.8,731.4 L1137.7,728.5 L1138.7,727.9 L1139.6,718 L1140.6,708.2 L1141.5,705.4 L1142.5,709.7 L1143.4,711.9 L1144.4,703.6 L1145.3,715.3 L1146.3,705.6 L1147.2,699.4 L1148.2,715.5 L1149.1,711.1 L1150.1,704.4 L1151,705.5 L1152,716.2 L1153,717.3 L1153.9,717.8 L1154.9,732.8 L1155.8,713.4 L1156.8,707.9 L1157.7,720.1 L1158.7,709.3 L1159.6,715.1 L1160.6,713.2 L1161.5,718 L1162.5,725 L1163.4,702.3 L1164.4,708.9 L1165.3,694.1 L1166.3,692.7 L1167.2,698.5 L1168.2,714.6 L1169.1,711.5 L1170.1,703.6 L1171,702.5 L1172,696.1 L1172.9,708.3 L1173.9,706.6 L1174.8,708.7 L1175.8,702.5 L1176.7,705.2 L1177.7,688.3 L1178.7,704.9 L1179.6,700 L1180.6,699.1 L1181.5,695.2 L1182.5,693.8 L1183.4,698.4 L1184.4,699 L1185.3,703.6 L1186.3,693.1 L1187.2,702.3 L1188.2,692 L1189.1,705.2 L1190.1,707.8 L1191,699.9 L1192,687.8 L1192.9,690 L1193.9,696.8 L1194.8,695.3 L1195.8,703.9 L1196.7,702.1 L1197.7,701.6 L1198.6,705.3 L1199.6,690.3 L1200.5,685.5 L1201.5,704.5 L1202.5,684 L1203.4,681.5 L1204.4,685.7 L1205.3,692.6 L1206.3,681.4 L1207.2,698.8 L1208.2,701.4 L1209.1,696.1 L1210.1,709.6 L1211,699 L1212,700.2 L1212.9,694.9 L1213.9,694.2 L1214.8,707 L1215.8,688.5 L1216.7,695.7 L1217.7,686.1 L1218.6,701.3 L1219.6,695.8 L1220.5,706.3 L1221.5,702 L1222.4,700.3 L1223.4,706.9 L1224.3,709.8 L1225.3,703.5 L1226.2,699.8 L1227.2,710.2 L1228.2,712.6 L1229.1,710.7 L1230.1,701.8 L1231,699.3 L1232,706.6 L1232.9,694.1 L1233.9,678.8 L1234.8,688 L1235.8,698.1 L1236.7,689.2 L1237.7,699 L1238.6,703.5 L1239.6,694 L1240.5,692.5 L1241.5,688.1 L1242.4,684.9 L1243.4,691 L1244.3,693 L1245.3,691.1 L1246.2,684.2 L1247.2,699.8 L1248.1,699.9 L1249.1,685 L1250,688.9 L1251,679.7 L1251.9,683.1 L1252.9,684.9 L1253.9,682 L1254.8,682.6 L1255.8,691.1 L1256.7,679.4 L1257.7,673.8 L1258.6,680.3 L1259.6,678.8 L1260.5,682.1 L1261.5,695 L1262.4,685.9 L1263.4,690.8 L1264.3,676.9 L1265.3,681.6 L1266.2,681.5 L1267.2,689.7 L1268.1,699.5 L1269.1,701 L1270,663 L1271,680.7 L1271.9,681.9 L1272.9,671.4 L1273.8,686.2 L1274.8,681.5 L1275.7,680.5 L1276.7,674.1 L1277.7,682.3 L1278.6,674.8 L1279.6,681.6 L1280.5,692.3 L1281.5,684.7 L1282.4,684.7 L1283.4,674.9 L1284.3,673 L1285.3,684.2 L1286.2,695.8 L1287.2,694.9 L1288.1,681.6 L1289.1,680.3 L1290,678.6 L1291,671.2 L1291.9,676.3 L1292.9,680.8 L1293.8,681.2 L1294.8,668.5 L1295.7,669.3 L1296.7,678.6 L1297.6,673.7 L1298.6,684.3 L1299.5,677.2 L1300.5,691.4 L1301.4,692.3 L1302.4,692.5" fill="none" stroke="#c9525e" stroke-width="2.8" stroke-linejoin="round"/>
<path d="M827.4,582.9 V1019 H1303.3" fill="none" stroke="#222222" stroke-width="2.1"/>
<line x1="815" y1="1019" x2="827.4" y2="1019" stroke="#222222" stroke-width="1.7"/>
<text x="809.2" y="1032.6" text-anchor="end" class="tk" transform="matrix(1 0 0 1.04 0 -41.30)">−50</text>
<line x1="815" y1="894.4" x2="827.4" y2="894.4" stroke="#222222" stroke-width="1.7"/>
<text x="809.2" y="908" text-anchor="end" class="tk" transform="matrix(1 0 0 1.04 0 -36.32)">0</text>
<line x1="815" y1="769.8" x2="827.4" y2="769.8" stroke="#222222" stroke-width="1.7"/>
<text x="809.2" y="783.4" text-anchor="end" class="tk" transform="matrix(1 0 0 1.04 0 -31.34)">50</text>
<line x1="815" y1="645.1" x2="827.4" y2="645.1" stroke="#222222" stroke-width="1.7"/>
<text x="809.2" y="658.7" text-anchor="end" class="tk" transform="matrix(1 0 0 1.04 0 -26.35)">100</text>
<line x1="827.4" y1="1019" x2="827.4" y2="1031.3" stroke="#222222" stroke-width="1.7"/>
<text x="827.4" y="1065" text-anchor="middle" class="tk" transform="matrix(1 0 0 1.04 0 -42.60)">−0.5</text>
<line x1="922.4" y1="1019" x2="922.4" y2="1031.3" stroke="#222222" stroke-width="1.7"/>
<text x="922.4" y="1065" text-anchor="middle" class="tk" transform="matrix(1 0 0 1.04 0 -42.60)">0.0</text>
<line x1="1017.4" y1="1019" x2="1017.4" y2="1031.3" stroke="#222222" stroke-width="1.7"/>
<text x="1017.4" y="1065" text-anchor="middle" class="tk" transform="matrix(1 0 0 1.04 0 -42.60)">0.5</text>
<line x1="1112.4" y1="1019" x2="1112.4" y2="1031.3" stroke="#222222" stroke-width="1.7"/>
<text x="1112.4" y="1065" text-anchor="middle" class="tk" transform="matrix(1 0 0 1.04 0 -42.60)">1.0</text>
<line x1="1207.4" y1="1019" x2="1207.4" y2="1031.3" stroke="#222222" stroke-width="1.7"/>
<text x="1207.4" y="1065" text-anchor="middle" class="tk" transform="matrix(1 0 0 1.04 0 -42.60)">1.5</text>
<line x1="1302.4" y1="1019" x2="1302.4" y2="1031.3" stroke="#222222" stroke-width="1.7"/>
<text x="1302.4" y="1065" text-anchor="middle" class="tk" transform="matrix(1 0 0 1.04 0 -42.60)">2.0</text>
<text x="1066.6" y="1108" text-anchor="middle" class="lb" style="font-size:39.2px" transform="matrix(1 0 0 1.04 0 -44.32)">Time (s)</text>
<g transform="translate(730.8,800.7) rotate(-90)"><text x="0" y="0" text-anchor="middle" class="lb" style="font-size:40.6px" transform="matrix(1 0 0 1.04 0 -0.00)">ΔOPL (nm)</text></g>
<text x="699" y="612.4" class="pl">c</text>
</svg></body></html>
